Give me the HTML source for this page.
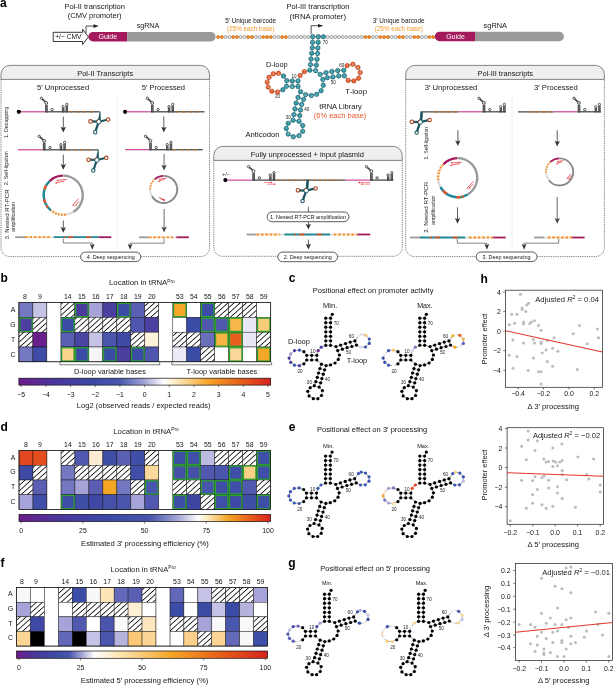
<!DOCTYPE html>
<html><head><meta charset="utf-8"><title>Figure</title>
<style>html,body{margin:0;padding:0;background:#fff}svg{display:block}text{font-family:"Liberation Sans",Arial,Helvetica,sans-serif}</style>
</head><body>
<svg width="614" height="685" viewBox="0 0 614 685">
<rect width="614" height="685" fill="#fff"/>
<defs>
<pattern id="hat" width="4.1" height="4.1" patternUnits="userSpaceOnUse" patternTransform="rotate(-42)"><rect width="4.1" height="4.1" fill="#fff"/><rect y="0" width="4.1" height="0.85" fill="#111"/></pattern>
<linearGradient id="gb" x1="0" x2="1" y1="0" y2="0"><stop offset="0" stop-color="#6c1c8a"/><stop offset="0.14" stop-color="#4c369b"/><stop offset="0.3" stop-color="#3b4aa4"/><stop offset="0.4" stop-color="#4857ac"/><stop offset="0.5" stop-color="#a4a4d6"/><stop offset="0.575" stop-color="#ffffff"/><stop offset="0.63" stop-color="#fde8ba"/><stop offset="0.75" stop-color="#f5a526"/><stop offset="0.87" stop-color="#e8641b"/><stop offset="1" stop-color="#d6221f"/></linearGradient>
<linearGradient id="gd" x1="0" x2="1" y1="0" y2="0"><stop offset="0" stop-color="#6c1c8a"/><stop offset="0.16" stop-color="#4c369b"/><stop offset="0.36" stop-color="#3b4aa4"/><stop offset="0.52" stop-color="#4857ac"/><stop offset="0.63" stop-color="#a4a4d6"/><stop offset="0.712" stop-color="#ffffff"/><stop offset="0.75" stop-color="#fde8ba"/><stop offset="0.83" stop-color="#f5a526"/><stop offset="0.91" stop-color="#e8641b"/><stop offset="1" stop-color="#d6221f"/></linearGradient>
<linearGradient id="gf" x1="0" x2="1" y1="0" y2="0"><stop offset="0" stop-color="#6c1c8a"/><stop offset="0.07" stop-color="#4c369b"/><stop offset="0.15" stop-color="#3b4aa4"/><stop offset="0.21" stop-color="#4857ac"/><stop offset="0.26" stop-color="#a4a4d6"/><stop offset="0.31" stop-color="#ffffff"/><stop offset="0.4" stop-color="#fde8ba"/><stop offset="0.62" stop-color="#f5a526"/><stop offset="0.8" stop-color="#e8641b"/><stop offset="1" stop-color="#d6221f"/></linearGradient>
</defs>
<path d="M1 79.4V247.60000000000002A9 9 0 0 0 10 256.6H200.5A9 9 0 0 0 209.5 247.60000000000002V79.4" fill="none" stroke="#333" stroke-width="0.7" stroke-dasharray="0.9 0.9"/>
<path d="M1 79.4V74.4A9 9 0 0 1 10 65.4H200.5A9 9 0 0 1 209.5 74.4V79.4Z" fill="#efefef" stroke="#666" stroke-width="0.8"/>
<text x="105.20" y="76.00" font-size="7.46" text-anchor="middle" fill="#161616">Pol-II Transcripts</text>
<text x="63.10" y="90.10" font-size="7.52" text-anchor="middle" fill="#161616">5′ Unprocessed</text>
<text x="163.40" y="90.10" font-size="7.55" text-anchor="middle" fill="#161616">5′ Processed</text>
<path d="M117.2 98V250" stroke="#aaa" stroke-width="0.5" stroke-dasharray="0.6 1"/>
<path d="M20.0 111.8H45.4" stroke="#c9358f" stroke-width="1.1" fill="none"/>
<path d="M45.4 111.8H68.2" stroke="#4a4a4a" stroke-width="1.3" fill="none"/>
<path d="M68.2 111.8H99.6" stroke="#4a4a4a" stroke-width="1.3" fill="none"/>
<path d="M69.5 111.8H72.5" stroke="#bd6d2a" stroke-width="1.3" fill="none"/>
<path d="M76.3 111.8H79.3" stroke="#bd6d2a" stroke-width="1.3" fill="none"/>
<path d="M83.1 111.8H86.1" stroke="#bd6d2a" stroke-width="1.3" fill="none"/>
<path d="M89.9 111.8H92.9" stroke="#bd6d2a" stroke-width="1.3" fill="none"/>
<circle cx="18.8" cy="111.8" r="2.1" fill="#000"/>
<path d="M46.40 112.40V104.80" stroke="#484848" stroke-width="2.7" fill="none"/><path d="M46.40 111.20V104.80" stroke="#9a9a9a" stroke-width="0.45" fill="none"/><path d="M45.40 101.80L42.20 99.00" stroke="#484848" stroke-width="1.7" fill="none"/><circle cx="46.30" cy="102.90" r="1.4" fill="#fff" stroke="#484848" stroke-width="1.0"/><circle cx="41.40" cy="98.30" r="1.15" fill="#fff" stroke="#484848" stroke-width="0.95"/><circle cx="52.15" cy="109.60" r="1.15" fill="#fff" stroke="#484848" stroke-width="0.95"/><path d="M63.20 112.40V108.00" stroke="#484848" stroke-width="2.5" fill="none"/><path d="M63.20 111.20V108.00" stroke="#9a9a9a" stroke-width="0.4" fill="none"/><circle cx="63.10" cy="106.70" r="1.15" fill="#fff" stroke="#484848" stroke-width="0.95"/><path d="M66.80 112.40V105.60" stroke="#484848" stroke-width="2.5" fill="none"/><path d="M66.80 111.20V105.60" stroke="#9a9a9a" stroke-width="0.4" fill="none"/><circle cx="66.80" cy="104.40" r="1.15" fill="#fff" stroke="#484848" stroke-width="0.95"/>
<path d="M97.95 120.20L99.60 112.20L100.45 110.70L100.85 120.20Z" fill="#1c5661"/>
<path d="M98.8 121.7L95.2 132.2" stroke="#1c5661" stroke-width="2.3"/>
<path d="M98.8 121.7L90.5 121.4" stroke="#1c5661" stroke-width="2.2"/>
<circle cx="90.5" cy="121.4" r="1.8" fill="#fff" stroke="#a83c16" stroke-width="1.05"/>
<path d="M98.8 121.7L108.2 119.5" stroke="#1c5661" stroke-width="2.2"/>
<circle cx="108.2" cy="119.5" r="1.7" fill="#fff" stroke="#a83c16" stroke-width="1.05"/>
<circle cx="95.2" cy="132.2" r="1.7" fill="#fff" stroke="#1c5661" stroke-width="1.05"/>
<circle cx="98.8" cy="121.7" r="2.25" fill="#fff" stroke="#1c5661" stroke-width="0.95"/>
<path d="M96.68 121.12A2.25 2.25 0 0 1 98.46 119.48" fill="none" stroke="#a83c16" stroke-width="0.95"/>
<path d="M63.3 116.5V128.2" stroke="#333" stroke-width="0.8" fill="none"/>
<path d="M60.6 126.7L63.3 128.0L66.0 126.7L63.3 132.5Z" fill="#333"/>
<path d="M17.9 149.8H43.2" stroke="#c9358f" stroke-width="1.1" fill="none"/>
<path d="M43.2 149.8H65.4" stroke="#4a4a4a" stroke-width="1.3" fill="none"/>
<path d="M65.4 149.8H97.9" stroke="#4a4a4a" stroke-width="1.3" fill="none"/>
<path d="M66.7 149.8H69.7" stroke="#bd6d2a" stroke-width="1.3" fill="none"/>
<path d="M73.5 149.8H76.5" stroke="#bd6d2a" stroke-width="1.3" fill="none"/>
<path d="M80.3 149.8H83.3" stroke="#bd6d2a" stroke-width="1.3" fill="none"/>
<path d="M87.1 149.8H90.1" stroke="#bd6d2a" stroke-width="1.3" fill="none"/>
<path d="M44.20 150.40V142.80" stroke="#484848" stroke-width="2.7" fill="none"/><path d="M44.20 149.20V142.80" stroke="#9a9a9a" stroke-width="0.45" fill="none"/><path d="M43.20 139.80L40.00 137.00" stroke="#484848" stroke-width="1.7" fill="none"/><circle cx="44.10" cy="140.90" r="1.4" fill="#fff" stroke="#484848" stroke-width="1.0"/><circle cx="39.20" cy="136.30" r="1.15" fill="#fff" stroke="#484848" stroke-width="0.95"/><circle cx="49.95" cy="147.60" r="1.15" fill="#fff" stroke="#484848" stroke-width="0.95"/><path d="M61.00 150.40V146.00" stroke="#484848" stroke-width="2.5" fill="none"/><path d="M61.00 149.20V146.00" stroke="#9a9a9a" stroke-width="0.4" fill="none"/><circle cx="60.90" cy="144.70" r="1.15" fill="#fff" stroke="#484848" stroke-width="0.95"/><path d="M64.60 150.40V143.60" stroke="#484848" stroke-width="2.5" fill="none"/><path d="M64.60 149.20V143.60" stroke="#9a9a9a" stroke-width="0.4" fill="none"/><circle cx="64.60" cy="142.40" r="1.15" fill="#fff" stroke="#484848" stroke-width="0.95"/>
<path d="M96.00 158.50L97.80 150.20L98.65 148.70L98.90 158.50Z" fill="#1c5661"/>
<path d="M96.9 160.0L93.3 170.5" stroke="#1c5661" stroke-width="2.3"/>
<path d="M96.9 160.0L88.6 159.7" stroke="#1c5661" stroke-width="2.2"/>
<circle cx="88.6" cy="159.7" r="1.8" fill="#fff" stroke="#a83c16" stroke-width="1.05"/>
<path d="M96.9 160.0L106.3 157.8" stroke="#1c5661" stroke-width="2.2"/>
<circle cx="106.3" cy="157.8" r="1.7" fill="#fff" stroke="#a83c16" stroke-width="1.05"/>
<circle cx="93.3" cy="170.5" r="1.7" fill="#fff" stroke="#1c5661" stroke-width="1.05"/>
<circle cx="96.9" cy="160.0" r="2.25" fill="#fff" stroke="#1c5661" stroke-width="0.95"/>
<path d="M94.73 159.42A2.25 2.25 0 0 1 96.51 157.78" fill="none" stroke="#a83c16" stroke-width="0.95"/>
<path d="M63.3 154.6V165.5" stroke="#333" stroke-width="0.8" fill="none"/>
<path d="M60.6 164.0L63.3 165.3L66.0 164.0L63.3 169.8Z" fill="#333"/>
<path d="M63.20 175.65A19.55 19.55 0 0 1 73.27 211.96" fill="none" stroke="#999999" stroke-width="2.4"/>
<path d="M73.27 211.96A19.55 19.55 0 0 1 65.92 214.56" fill="none" stroke="#dcdcdc" stroke-width="2.4"/>
<path d="M65.92 214.56A19.55 19.55 0 0 1 50.90 210.39" fill="none" stroke="#f6e6d2" stroke-width="2.4"/>
<path d="M65.58 214.60A19.55 19.55 0 0 1 50.90 210.39" fill="none" stroke="#f28c28" stroke-width="2.4" stroke-dasharray="1.5 1.5"/>
<path d="M50.90 210.39A19.55 19.55 0 0 1 49.62 181.14" fill="none" stroke="#1e8796" stroke-width="2.4"/>
<path d="M47.79 207.24A19.55 19.55 0 0 1 46.62 205.56" fill="none" stroke="#e8572a" stroke-width="2.4"/>
<path d="M45.20 202.84A19.55 19.55 0 0 1 44.08 199.26" fill="none" stroke="#e8572a" stroke-width="2.4"/>
<path d="M44.50 189.48A19.55 19.55 0 0 1 46.27 185.42" fill="none" stroke="#e8572a" stroke-width="2.4"/>
<path d="M49.62 181.14A19.55 19.55 0 0 1 62.86 175.65" fill="none" stroke="#a3195b" stroke-width="2.4"/>
<path d="M66.90 179.40L56.70 180.40L58.08 181.17" fill="none" stroke="#e0262b" stroke-width="0.7" stroke-linejoin="round"/>
<path d="M64.50 181.00L55.50 183.00L56.96 183.60" fill="none" stroke="#e0262b" stroke-width="0.7" stroke-linejoin="round"/>
<path d="M78.70 198.50L72.60 205.40L74.14 205.02" fill="none" stroke="#e0262b" stroke-width="0.7" stroke-linejoin="round"/>
<path d="M79.30 201.20L75.20 205.60L76.74 205.26" fill="none" stroke="#e0262b" stroke-width="0.7" stroke-linejoin="round"/>
<path d="M63.3 220.5V228.4" stroke="#333" stroke-width="0.8" fill="none"/>
<path d="M60.6 226.9L63.3 228.2L66.0 226.9L63.3 232.7Z" fill="#333"/>
<path d="M15.2 237.2H25.1" stroke="#999999" stroke-width="1.8" fill="none"/>
<path d="M25.1 237.2H51.0" stroke="#f6e6d2" stroke-width="1.8" fill="none"/>
<path d="M25.1 237.2H51.0" stroke="#f28c28" stroke-width="1.8" stroke-dasharray="2.6 1.8" fill="none"/>
<path d="M51.0 237.2H53.8" stroke="#dcdcdc" stroke-width="1.8" fill="none"/>
<path d="M53.8 237.2H98.6" stroke="#1e8796" stroke-width="1.8" fill="none"/>
<path d="M63.6 237.2H65.4" stroke="#e8572a" stroke-width="1.8" fill="none"/>
<path d="M68.1 237.2H73.1" stroke="#e8572a" stroke-width="1.8" fill="none"/>
<path d="M86.0 237.2H91.0" stroke="#e8572a" stroke-width="1.8" fill="none"/>
<path d="M98.6 237.2H111.3" stroke="#a3195b" stroke-width="1.8" fill="none"/>
<path d="M63.3 238.5V243H92.3V245.5" fill="none" stroke="#333" stroke-width="0.6"/>
<path d="M89.9 243.8L92.3 245.2L94.7 243.8L92.3 249.8Z" fill="#333"/>
<circle cx="125.1" cy="111.8" r="2.1" fill="#000"/>
<path d="M126.5 111.8H151.2" stroke="#c9358f" stroke-width="1.1" fill="none"/>
<path d="M151.2 111.8H174.0" stroke="#4a4a4a" stroke-width="1.3" fill="none"/>
<path d="M174.0 111.8H204.5" stroke="#4a4a4a" stroke-width="1.3" fill="none"/>
<path d="M175.3 111.8H178.3" stroke="#bd6d2a" stroke-width="1.3" fill="none"/>
<path d="M182.1 111.8H185.1" stroke="#bd6d2a" stroke-width="1.3" fill="none"/>
<path d="M188.9 111.8H191.9" stroke="#bd6d2a" stroke-width="1.3" fill="none"/>
<path d="M195.7 111.8H198.7" stroke="#bd6d2a" stroke-width="1.3" fill="none"/>
<path d="M152.30 112.40V104.80" stroke="#484848" stroke-width="2.7" fill="none"/><path d="M152.30 111.20V104.80" stroke="#9a9a9a" stroke-width="0.45" fill="none"/><path d="M151.30 101.80L148.10 99.00" stroke="#484848" stroke-width="1.7" fill="none"/><circle cx="152.20" cy="102.90" r="1.4" fill="#fff" stroke="#484848" stroke-width="1.0"/><circle cx="147.30" cy="98.30" r="1.15" fill="#fff" stroke="#484848" stroke-width="0.95"/><circle cx="158.05" cy="109.60" r="1.15" fill="#fff" stroke="#484848" stroke-width="0.95"/><path d="M169.10 112.40V108.00" stroke="#484848" stroke-width="2.5" fill="none"/><path d="M169.10 111.20V108.00" stroke="#9a9a9a" stroke-width="0.4" fill="none"/><circle cx="169.00" cy="106.70" r="1.15" fill="#fff" stroke="#484848" stroke-width="0.95"/><path d="M172.70 112.40V105.60" stroke="#484848" stroke-width="2.5" fill="none"/><path d="M172.70 111.20V105.60" stroke="#9a9a9a" stroke-width="0.4" fill="none"/><circle cx="172.70" cy="104.40" r="1.15" fill="#fff" stroke="#484848" stroke-width="0.95"/>
<path d="M163.8 116.5V128.3" stroke="#333" stroke-width="0.8" fill="none"/>
<path d="M161.2 126.8L163.8 128.1L166.5 126.8L163.8 132.6Z" fill="#333"/>
<path d="M125.1 149.7H149.4" stroke="#c9358f" stroke-width="1.1" fill="none"/>
<path d="M149.4 149.7H171.7" stroke="#4a4a4a" stroke-width="1.3" fill="none"/>
<path d="M171.7 149.7H202.7" stroke="#4a4a4a" stroke-width="1.3" fill="none"/>
<path d="M173.0 149.7H176.0" stroke="#bd6d2a" stroke-width="1.3" fill="none"/>
<path d="M179.8 149.7H182.8" stroke="#bd6d2a" stroke-width="1.3" fill="none"/>
<path d="M186.6 149.7H189.6" stroke="#bd6d2a" stroke-width="1.3" fill="none"/>
<path d="M193.4 149.7H196.4" stroke="#bd6d2a" stroke-width="1.3" fill="none"/>
<path d="M150.50 150.30V142.70" stroke="#484848" stroke-width="2.7" fill="none"/><path d="M150.50 149.10V142.70" stroke="#9a9a9a" stroke-width="0.45" fill="none"/><path d="M149.50 139.70L146.30 136.90" stroke="#484848" stroke-width="1.7" fill="none"/><circle cx="150.40" cy="140.80" r="1.4" fill="#fff" stroke="#484848" stroke-width="1.0"/><circle cx="145.50" cy="136.20" r="1.15" fill="#fff" stroke="#484848" stroke-width="0.95"/><circle cx="156.25" cy="147.50" r="1.15" fill="#fff" stroke="#484848" stroke-width="0.95"/><path d="M167.30 150.30V145.90" stroke="#484848" stroke-width="2.5" fill="none"/><path d="M167.30 149.10V145.90" stroke="#9a9a9a" stroke-width="0.4" fill="none"/><circle cx="167.20" cy="144.60" r="1.15" fill="#fff" stroke="#484848" stroke-width="0.95"/><path d="M170.90 150.30V143.50" stroke="#484848" stroke-width="2.5" fill="none"/><path d="M170.90 149.10V143.50" stroke="#9a9a9a" stroke-width="0.4" fill="none"/><circle cx="170.90" cy="142.30" r="1.15" fill="#fff" stroke="#484848" stroke-width="0.95"/>
<path d="M164.1 154.0V166.3" stroke="#444" stroke-width="0.8" fill="none"/>
<path d="M161.4 164.8L164.1 166.1L166.8 164.8L164.1 170.6Z" fill="#444"/>
<path d="M163.70 175.80A13.6 13.6 0 1 1 151.81 195.99" fill="none" stroke="#888" stroke-width="1.8"/>
<path d="M151.81 195.99A13.6 13.6 0 0 1 150.11 189.87" fill="none" stroke="#dcdcdc" stroke-width="1.8"/>
<path d="M150.11 189.87A13.6 13.6 0 0 1 154.78 179.14" fill="none" stroke="#f6e6d2" stroke-width="1.8"/>
<path d="M150.10 189.40A13.6 13.6 0 0 1 154.78 179.14" fill="none" stroke="#f28c28" stroke-width="1.8" stroke-dasharray="1.3 1.3"/>
<path d="M154.78 179.14A13.6 13.6 0 0 1 163.46 175.80" fill="none" stroke="#a3195b" stroke-width="1.8"/>
<path d="M166.50 178.30L159.00 179.10L160.39 179.86" fill="none" stroke="#e0262b" stroke-width="0.7" stroke-linejoin="round"/>
<path d="M164.50 179.30L158.30 181.40L159.82 181.84" fill="none" stroke="#e0262b" stroke-width="0.7" stroke-linejoin="round"/>
<path d="M159.00 197.30L164.50 200.20L163.77 198.80" fill="none" stroke="#e0262b" stroke-width="0.7" stroke-linejoin="round"/>
<path d="M160.60 198.80L164.80 200.40L163.26 200.78" fill="none" stroke="#e0262b" stroke-width="0.7" stroke-linejoin="round"/>
<path d="M164.1 209.0V228.1" stroke="#444" stroke-width="0.8" fill="none"/>
<path d="M161.4 226.6L164.1 227.9L166.8 226.6L164.1 232.4Z" fill="#444"/>
<path d="M139.0 237.3H148.9" stroke="#999999" stroke-width="1.8" fill="none"/>
<path d="M148.9 237.3H173.1" stroke="#f6e6d2" stroke-width="1.8" fill="none"/>
<path d="M148.9 237.3H173.1" stroke="#f28c28" stroke-width="1.8" stroke-dasharray="2.6 1.8" fill="none"/>
<path d="M173.1 237.3H176.3" stroke="#dcdcdc" stroke-width="1.8" fill="none"/>
<path d="M176.3 237.3H188.9" stroke="#a3195b" stroke-width="1.8" fill="none"/>
<path d="M164.1 238.7V243.2H130.1V245.5" fill="none" stroke="#333" stroke-width="0.6"/>
<path d="M127.7 243.8L130.1 245.2L132.5 243.8L130.1 249.8Z" fill="#333"/>
<rect x="80.6" y="252.1" width="60.2" height="9.5" rx="4.8" fill="#fff" stroke="#333" stroke-width="0.8"/>
<text x="110.70" y="258.75" font-size="5.40" text-anchor="middle" fill="#161616">4. Deep sequencing</text>
<text x="8.42" y="122.20" font-size="5.35" text-anchor="middle" fill="#222" transform="rotate(-90 8.42 122.20)">1. Decapping</text>
<text x="8.43" y="168.30" font-size="5.37" text-anchor="middle" fill="#222" transform="rotate(-90 8.43 168.30)">2. Self-ligation</text>
<text x="8.68" y="214.40" font-size="6.05" text-anchor="middle" fill="#222" transform="rotate(-90 8.68 214.40)">3. Nested RT-PCR</text>
<text x="14.84" y="217.00" font-size="5.40" text-anchor="middle" fill="#222" transform="rotate(-90 14.84 217.00)">amplification</text>
<path d="M213.8 160.4V247.3A9 9 0 0 0 222.8 256.3H393.2A9 9 0 0 0 402.2 247.3V160.4" fill="none" stroke="#333" stroke-width="0.7" stroke-dasharray="0.9 0.9"/>
<path d="M213.8 160.4V155.4A9 9 0 0 1 222.8 146.4H393.2A9 9 0 0 1 402.2 155.4V160.4Z" fill="#efefef" stroke="#666" stroke-width="0.8"/>
<text x="307.35" y="156.80" font-size="7.47" text-anchor="middle" fill="#161616">Fully unprocessed + input plasmid</text>
<text x="226.00" y="175.60" font-size="5.50" text-anchor="middle" fill="#333">+/−</text>
<circle cx="225.4" cy="180.1" r="2.1" fill="#000"/>
<path d="M227.0 180.1H252.6" stroke="#c9358f" stroke-width="1.1" fill="none"/>
<path d="M252.6 180.1H276.2" stroke="#4a4a4a" stroke-width="1.3" fill="none"/>
<path d="M276.2 180.1H345.6" stroke="#4a4a4a" stroke-width="1.3" fill="none"/>
<path d="M277.2 180.1H279.7" stroke="#bd6d2a" stroke-width="1.3" fill="none"/>
<path d="M282.4 180.1H284.9" stroke="#bd6d2a" stroke-width="1.3" fill="none"/>
<path d="M287.6 180.1H290.1" stroke="#bd6d2a" stroke-width="1.3" fill="none"/>
<path d="M292.8 180.1H295.3" stroke="#bd6d2a" stroke-width="1.3" fill="none"/>
<path d="M298.0 180.1H300.5" stroke="#bd6d2a" stroke-width="1.3" fill="none"/>
<path d="M303.2 180.1H305.7" stroke="#bd6d2a" stroke-width="1.3" fill="none"/>
<path d="M308.4 180.1H310.9" stroke="#bd6d2a" stroke-width="1.3" fill="none"/>
<path d="M313.6 180.1H316.1" stroke="#bd6d2a" stroke-width="1.3" fill="none"/>
<path d="M318.8 180.1H321.3" stroke="#bd6d2a" stroke-width="1.3" fill="none"/>
<path d="M324.0 180.1H326.5" stroke="#bd6d2a" stroke-width="1.3" fill="none"/>
<path d="M329.2 180.1H331.7" stroke="#bd6d2a" stroke-width="1.3" fill="none"/>
<path d="M334.4 180.1H336.9" stroke="#bd6d2a" stroke-width="1.3" fill="none"/>
<path d="M339.6 180.1H342.1" stroke="#bd6d2a" stroke-width="1.3" fill="none"/>
<path d="M345.6 180.1H370.3" stroke="#c9358f" stroke-width="1.1" fill="none"/>
<path d="M370.3 180.1H393.3" stroke="#4a4a4a" stroke-width="1.3" fill="none"/>
<path d="M253.60 180.70V173.10" stroke="#484848" stroke-width="2.7" fill="none"/><path d="M253.60 179.50V173.10" stroke="#9a9a9a" stroke-width="0.45" fill="none"/><path d="M252.60 170.10L249.40 167.30" stroke="#484848" stroke-width="1.7" fill="none"/><circle cx="253.50" cy="171.20" r="1.4" fill="#fff" stroke="#484848" stroke-width="1.0"/><circle cx="248.60" cy="166.60" r="1.15" fill="#fff" stroke="#484848" stroke-width="0.95"/><circle cx="259.35" cy="177.90" r="1.15" fill="#fff" stroke="#484848" stroke-width="0.95"/><path d="M270.40 180.70V176.30" stroke="#484848" stroke-width="2.5" fill="none"/><path d="M270.40 179.50V176.30" stroke="#9a9a9a" stroke-width="0.4" fill="none"/><circle cx="270.30" cy="175.00" r="1.15" fill="#fff" stroke="#484848" stroke-width="0.95"/><path d="M274.00 180.70V173.90" stroke="#484848" stroke-width="2.5" fill="none"/><path d="M274.00 179.50V173.90" stroke="#9a9a9a" stroke-width="0.4" fill="none"/><circle cx="274.00" cy="172.70" r="1.15" fill="#fff" stroke="#484848" stroke-width="0.95"/>
<path d="M371.40 180.70V173.10" stroke="#484848" stroke-width="2.7" fill="none"/><path d="M371.40 179.50V173.10" stroke="#9a9a9a" stroke-width="0.45" fill="none"/><path d="M370.40 170.10L367.20 167.30" stroke="#484848" stroke-width="1.7" fill="none"/><circle cx="371.30" cy="171.20" r="1.4" fill="#fff" stroke="#484848" stroke-width="1.0"/><circle cx="366.40" cy="166.60" r="1.15" fill="#fff" stroke="#484848" stroke-width="0.95"/><circle cx="377.15" cy="177.90" r="1.15" fill="#fff" stroke="#484848" stroke-width="0.95"/><path d="M388.20 180.70V176.30" stroke="#484848" stroke-width="2.5" fill="none"/><path d="M388.20 179.50V176.30" stroke="#9a9a9a" stroke-width="0.4" fill="none"/><circle cx="388.10" cy="175.00" r="1.15" fill="#fff" stroke="#484848" stroke-width="0.95"/><path d="M391.80 180.70V173.90" stroke="#484848" stroke-width="2.5" fill="none"/><path d="M391.80 179.50V173.90" stroke="#9a9a9a" stroke-width="0.4" fill="none"/><circle cx="391.80" cy="172.70" r="1.15" fill="#fff" stroke="#484848" stroke-width="0.95"/>
<path d="M263.9 182.5H271.2M267.1 184.2H274.5" stroke="#e0262b" stroke-width="0.5"/><path d="M270.6 181.6L272.6 182.5L270.6 183.4ZM273.9 183.3L275.9 184.2L273.9 185.1Z" fill="#e0262b"/>
<path d="M370.3 182.5H359.2M370.3 184.1H361.8" stroke="#e0262b" stroke-width="0.5"/><path d="M359.8 181.6L357.8 182.5L359.8 183.4ZM362.4 183.2L360.4 184.1L362.4 185Z" fill="#e0262b"/>
<path d="M305.60 189.10L306.50 179.70L309.00 179.70L308.40 189.10Z" fill="#1c5661"/>
<path d="M306.2 190.6L302.6 201.1" stroke="#1c5661" stroke-width="2.3"/>
<path d="M306.2 190.6L297.9 190.3" stroke="#1c5661" stroke-width="2.2"/>
<circle cx="297.9" cy="190.3" r="1.8" fill="#fff" stroke="#a83c16" stroke-width="1.05"/>
<path d="M306.2 190.6L315.6 188.4" stroke="#1c5661" stroke-width="2.2"/>
<circle cx="315.6" cy="188.4" r="1.7" fill="#fff" stroke="#a83c16" stroke-width="1.05"/>
<circle cx="302.6" cy="201.1" r="1.7" fill="#fff" stroke="#1c5661" stroke-width="1.05"/>
<circle cx="306.2" cy="190.6" r="2.25" fill="#fff" stroke="#1c5661" stroke-width="0.95"/>
<path d="M304.03 190.02A2.25 2.25 0 0 1 305.81 188.38" fill="none" stroke="#a83c16" stroke-width="0.95"/>
<path d="M308.4 206.6V212" stroke="#333" stroke-width="0.7"/>
<rect x="267.2" y="212.0" width="81.7" height="9.7" rx="4.8" fill="#fff" stroke="#333" stroke-width="0.8"/>
<text x="308.05" y="218.75" font-size="5.40" text-anchor="middle" fill="#161616">1. Nested RT-PCR amplification</text>
<path d="M308.4 221.7V225.2" stroke="#333" stroke-width="0.8" fill="none"/>
<path d="M305.8 223.7L308.4 225.0L311.0 223.7L308.4 229.5Z" fill="#333"/>
<path d="M246.6 234.5H256.5" stroke="#999999" stroke-width="1.8" fill="none"/>
<path d="M256.5 234.5H279.8" stroke="#f6e6d2" stroke-width="1.8" fill="none"/>
<path d="M256.5 234.5H279.8" stroke="#f28c28" stroke-width="1.8" stroke-dasharray="2.6 1.8" fill="none"/>
<path d="M279.8 234.5H284.4" stroke="#dcdcdc" stroke-width="1.8" fill="none"/>
<path d="M284.4 234.5H330.1" stroke="#1e8796" stroke-width="1.8" fill="none"/>
<path d="M294.4 234.5H295.9" stroke="#e8572a" stroke-width="1.8" fill="none"/>
<path d="M299.0 234.5H304.5" stroke="#e8572a" stroke-width="1.8" fill="none"/>
<path d="M316.8 234.5H321.9" stroke="#e8572a" stroke-width="1.8" fill="none"/>
<path d="M330.1 234.5H333.8" stroke="#dcdcdc" stroke-width="1.8" fill="none"/>
<path d="M333.8 234.5H357.5" stroke="#f6e6d2" stroke-width="1.8" fill="none"/>
<path d="M333.8 234.5H357.5" stroke="#f28c28" stroke-width="1.8" stroke-dasharray="2.6 1.8" fill="none"/>
<path d="M357.5 234.5H370.3" stroke="#a3195b" stroke-width="1.8" fill="none"/>
<path d="M308.4 239.5V245.3" stroke="#333" stroke-width="0.8" fill="none"/>
<path d="M305.8 243.8L308.4 245.1L311.0 243.8L308.4 249.6Z" fill="#333"/>
<rect x="277.8" y="252.1" width="59.8" height="9.6" rx="4.8" fill="#fff" stroke="#333" stroke-width="0.8"/>
<text x="307.70" y="258.80" font-size="5.40" text-anchor="middle" fill="#161616">2. Deep sequencing</text>
<path d="M405.7 79.4V247.60000000000002A9 9 0 0 0 414.7 256.6H595.4A9 9 0 0 0 604.4 247.60000000000002V79.4" fill="none" stroke="#333" stroke-width="0.7" stroke-dasharray="0.9 0.9"/>
<path d="M405.7 79.4V74.4A9 9 0 0 1 414.7 65.4H595.4A9 9 0 0 1 604.4 74.4V79.4Z" fill="#efefef" stroke="#666" stroke-width="0.8"/>
<text x="505.25" y="76.00" font-size="7.42" text-anchor="middle" fill="#161616">Pol-III transcripts</text>
<text x="451.00" y="90.10" font-size="7.64" text-anchor="middle" fill="#161616">3′ Unprocessed</text>
<text x="555.95" y="90.10" font-size="7.61" text-anchor="middle" fill="#161616">3′ Processed</text>
<path d="M512.1 98V250" stroke="#aaa" stroke-width="0.5" stroke-dasharray="0.6 1"/>
<path d="M422.9 111.8H458.2" stroke="#4a4a4a" stroke-width="1.3" fill="none"/>
<path d="M433.9 111.8H437.5" stroke="#bd6d2a" stroke-width="1.3" fill="none"/>
<path d="M440.3 111.8H443.9" stroke="#bd6d2a" stroke-width="1.3" fill="none"/>
<path d="M446.7 111.8H450.3" stroke="#bd6d2a" stroke-width="1.3" fill="none"/>
<path d="M453.1 111.8H456.7" stroke="#bd6d2a" stroke-width="1.3" fill="none"/>
<path d="M458.2 111.8H482.4" stroke="#c9358f" stroke-width="1.1" fill="none"/>
<path d="M482.4 111.8H505.9" stroke="#4a4a4a" stroke-width="1.3" fill="none"/>
<path d="M484.00 112.40V104.80" stroke="#484848" stroke-width="2.7" fill="none"/><path d="M484.00 111.20V104.80" stroke="#9a9a9a" stroke-width="0.45" fill="none"/><path d="M483.00 101.80L479.80 99.00" stroke="#484848" stroke-width="1.7" fill="none"/><circle cx="483.90" cy="102.90" r="1.4" fill="#fff" stroke="#484848" stroke-width="1.0"/><circle cx="479.00" cy="98.30" r="1.15" fill="#fff" stroke="#484848" stroke-width="0.95"/><circle cx="489.75" cy="109.60" r="1.15" fill="#fff" stroke="#484848" stroke-width="0.95"/><path d="M500.80 112.40V108.00" stroke="#484848" stroke-width="2.5" fill="none"/><path d="M500.80 111.20V108.00" stroke="#9a9a9a" stroke-width="0.4" fill="none"/><circle cx="500.70" cy="106.70" r="1.15" fill="#fff" stroke="#484848" stroke-width="0.95"/><path d="M504.40 112.40V105.60" stroke="#484848" stroke-width="2.5" fill="none"/><path d="M504.40 111.20V105.60" stroke="#9a9a9a" stroke-width="0.4" fill="none"/><circle cx="504.40" cy="104.40" r="1.15" fill="#fff" stroke="#484848" stroke-width="0.95"/>
<path d="M419.60 120.60L420.50 111.20L423.00 111.20L422.40 120.60Z" fill="#1c5661"/>
<path d="M420.2 122.1L416.6 132.6" stroke="#1c5661" stroke-width="2.3"/>
<path d="M420.2 122.1L411.9 121.8" stroke="#1c5661" stroke-width="2.2"/>
<circle cx="411.9" cy="121.8" r="1.8" fill="#fff" stroke="#a83c16" stroke-width="1.05"/>
<path d="M420.2 122.1L429.6 119.9" stroke="#1c5661" stroke-width="2.2"/>
<circle cx="429.6" cy="119.9" r="1.7" fill="#fff" stroke="#a83c16" stroke-width="1.05"/>
<circle cx="416.6" cy="132.6" r="1.7" fill="#fff" stroke="#1c5661" stroke-width="1.05"/>
<circle cx="420.2" cy="122.1" r="2.25" fill="#fff" stroke="#1c5661" stroke-width="0.95"/>
<path d="M418.03 121.52A2.25 2.25 0 0 1 419.81 119.88" fill="none" stroke="#a83c16" stroke-width="0.95"/>
<text x="427.86" y="143.20" font-size="5.16" text-anchor="middle" fill="#222" transform="rotate(-90 427.86 143.20)">1. Self-ligation</text>
<path d="M457.9 130.3V141.7" stroke="#333" stroke-width="0.8" fill="none"/>
<path d="M455.2 140.2L457.9 141.5L460.5 140.2L457.9 146.0Z" fill="#333"/>
<path d="M457.65 158.10A19.55 19.55 0 0 1 467.72 194.41" fill="none" stroke="#999999" stroke-width="2.4"/>
<path d="M467.72 194.41A19.55 19.55 0 0 1 440.39 186.83" fill="none" stroke="#1e8796" stroke-width="2.4"/>
<path d="M463.69 196.24A19.55 19.55 0 0 1 462.05 196.70" fill="none" stroke="#e8572a" stroke-width="2.4"/>
<path d="M460.37 197.01A19.55 19.55 0 0 1 456.29 197.15" fill="none" stroke="#e8572a" stroke-width="2.4"/>
<path d="M446.72 193.86A19.55 19.55 0 0 1 443.12 190.73" fill="none" stroke="#e8572a" stroke-width="2.4"/>
<path d="M440.39 186.83A19.55 19.55 0 0 1 438.29 180.37" fill="none" stroke="#dcdcdc" stroke-width="2.4"/>
<path d="M438.29 180.37A19.55 19.55 0 0 1 443.59 164.07" fill="none" stroke="#f6e6d2" stroke-width="2.4"/>
<path d="M438.25 180.03A19.55 19.55 0 0 1 443.59 164.07" fill="none" stroke="#f28c28" stroke-width="2.4" stroke-dasharray="1.5 1.5"/>
<path d="M443.59 164.07A19.55 19.55 0 0 1 457.31 158.10" fill="none" stroke="#a3195b" stroke-width="2.4"/>
<path d="M461.70 162.20L451.20 162.90L452.56 163.71" fill="none" stroke="#e0262b" stroke-width="0.7" stroke-linejoin="round"/>
<path d="M460.10 163.50L450.40 165.40L451.85 166.03" fill="none" stroke="#e0262b" stroke-width="0.7" stroke-linejoin="round"/>
<path d="M473.50 181.30L467.00 188.20L468.55 187.87" fill="none" stroke="#e0262b" stroke-width="0.7" stroke-linejoin="round"/>
<path d="M473.20 184.20L469.00 188.20L470.56 187.96" fill="none" stroke="#e0262b" stroke-width="0.7" stroke-linejoin="round"/>
<text x="428.22" y="207.20" font-size="6.16" text-anchor="middle" fill="#222" transform="rotate(-90 428.22 207.20)">2. Nested RT-PCR</text>
<text x="434.92" y="210.20" font-size="5.34" text-anchor="middle" fill="#222" transform="rotate(-90 434.92 210.20)">amplification</text>
<path d="M457.5 207.3V219.5" stroke="#333" stroke-width="0.8" fill="none"/>
<path d="M454.9 218.0L457.5 219.3L460.1 218.0L457.5 223.8Z" fill="#333"/>
<path d="M409.9 237.5H419.7" stroke="#999999" stroke-width="1.8" fill="none"/>
<path d="M419.7 237.5H465.4" stroke="#1e8796" stroke-width="1.8" fill="none"/>
<path d="M430.1 237.5H431.9" stroke="#e8572a" stroke-width="1.8" fill="none"/>
<path d="M434.9 237.5H439.8" stroke="#e8572a" stroke-width="1.8" fill="none"/>
<path d="M452.9 237.5H457.7" stroke="#e8572a" stroke-width="1.8" fill="none"/>
<path d="M465.4 237.5H469.0" stroke="#dcdcdc" stroke-width="1.8" fill="none"/>
<path d="M469.0 237.5H493.2" stroke="#f6e6d2" stroke-width="1.8" fill="none"/>
<path d="M469.0 237.5H493.2" stroke="#f28c28" stroke-width="1.8" stroke-dasharray="2.6 1.8" fill="none"/>
<path d="M493.2 237.5H505.7" stroke="#a3195b" stroke-width="1.8" fill="none"/>
<path d="M457.3 239V243.2H486.9V245.5" fill="none" stroke="#333" stroke-width="0.6"/>
<path d="M484.5 243.8L486.9 245.2L489.3 243.8L486.9 249.8Z" fill="#333"/>
<path d="M518.0 111.8H553.3" stroke="#4a4a4a" stroke-width="1.3" fill="none"/>
<path d="M529.0 111.8H532.6" stroke="#bd6d2a" stroke-width="1.3" fill="none"/>
<path d="M535.5 111.8H539.1" stroke="#bd6d2a" stroke-width="1.3" fill="none"/>
<path d="M542.0 111.8H545.6" stroke="#bd6d2a" stroke-width="1.3" fill="none"/>
<path d="M548.5 111.8H552.1" stroke="#bd6d2a" stroke-width="1.3" fill="none"/>
<path d="M553.3 111.8H577.5" stroke="#c9358f" stroke-width="1.1" fill="none"/>
<path d="M577.5 111.8H601.0" stroke="#4a4a4a" stroke-width="1.3" fill="none"/>
<path d="M579.00 112.40V104.80" stroke="#484848" stroke-width="2.7" fill="none"/><path d="M579.00 111.20V104.80" stroke="#9a9a9a" stroke-width="0.45" fill="none"/><path d="M578.00 101.80L574.80 99.00" stroke="#484848" stroke-width="1.7" fill="none"/><circle cx="578.90" cy="102.90" r="1.4" fill="#fff" stroke="#484848" stroke-width="1.0"/><circle cx="574.00" cy="98.30" r="1.15" fill="#fff" stroke="#484848" stroke-width="0.95"/><circle cx="584.75" cy="109.60" r="1.15" fill="#fff" stroke="#484848" stroke-width="0.95"/><path d="M595.80 112.40V108.00" stroke="#484848" stroke-width="2.5" fill="none"/><path d="M595.80 111.20V108.00" stroke="#9a9a9a" stroke-width="0.4" fill="none"/><circle cx="595.70" cy="106.70" r="1.15" fill="#fff" stroke="#484848" stroke-width="0.95"/><path d="M599.40 112.40V105.60" stroke="#484848" stroke-width="2.5" fill="none"/><path d="M599.40 111.20V105.60" stroke="#9a9a9a" stroke-width="0.4" fill="none"/><circle cx="599.40" cy="104.40" r="1.15" fill="#fff" stroke="#484848" stroke-width="0.95"/>
<path d="M557.2 130.3V142.3" stroke="#333" stroke-width="0.8" fill="none"/>
<path d="M554.6 140.8L557.2 142.1L559.9 140.8L557.2 146.6Z" fill="#333"/>
<path d="M559.60 158.30A13.6 13.6 0 1 1 548.88 180.27" fill="none" stroke="#888" stroke-width="1.8"/>
<path d="M548.88 180.27A13.6 13.6 0 0 1 546.03 172.85" fill="none" stroke="#dcdcdc" stroke-width="1.8"/>
<path d="M546.03 172.85A13.6 13.6 0 0 1 550.50 161.79" fill="none" stroke="#f6e6d2" stroke-width="1.8"/>
<path d="M546.02 172.61A13.6 13.6 0 0 1 550.50 161.79" fill="none" stroke="#f28c28" stroke-width="1.8" stroke-dasharray="1.3 1.3"/>
<path d="M550.50 161.79A13.6 13.6 0 0 1 559.36 158.30" fill="none" stroke="#a3195b" stroke-width="1.8"/>
<path d="M563.50 160.60L557.00 161.60L558.42 162.29" fill="none" stroke="#e0262b" stroke-width="0.7" stroke-linejoin="round"/>
<path d="M562.00 161.80L556.50 163.60L558.02 164.05" fill="none" stroke="#e0262b" stroke-width="0.7" stroke-linejoin="round"/>
<path d="M570.80 174.00L567.00 178.50L568.53 178.09" fill="none" stroke="#e0262b" stroke-width="0.7" stroke-linejoin="round"/>
<path d="M571.80 175.50L568.60 179.30L570.13 178.89" fill="none" stroke="#e0262b" stroke-width="0.7" stroke-linejoin="round"/>
<path d="M557.2 197.0V219.5" stroke="#444" stroke-width="0.8" fill="none"/>
<path d="M554.6 218.0L557.2 219.3L559.9 218.0L557.2 223.8Z" fill="#444"/>
<path d="M534.1 237.5H544.3" stroke="#999999" stroke-width="1.8" fill="none"/>
<path d="M544.3 237.5H547.9" stroke="#dcdcdc" stroke-width="1.8" fill="none"/>
<path d="M547.9 237.5H572.1" stroke="#f6e6d2" stroke-width="1.8" fill="none"/>
<path d="M547.9 237.5H572.1" stroke="#f28c28" stroke-width="1.8" stroke-dasharray="2.6 1.8" fill="none"/>
<path d="M572.1 237.5H584.6" stroke="#a3195b" stroke-width="1.8" fill="none"/>
<path d="M558.7 239V243.2H524.1V245.5" fill="none" stroke="#333" stroke-width="0.6"/>
<path d="M521.7 243.8L524.1 245.2L526.5 243.8L524.1 249.8Z" fill="#333"/>
<rect x="476.2" y="252.0" width="60.8" height="9.6" rx="4.8" fill="#fff" stroke="#333" stroke-width="0.8"/>
<text x="506.60" y="258.70" font-size="5.40" text-anchor="middle" fill="#161616">3. Deep sequencing</text>
<text x="0.00" y="6.80" font-size="12.00" text-anchor="start" fill="#000" font-weight="bold">a</text>
<text x="94.70" y="8.80" font-size="7.52" text-anchor="middle" fill="#161616">Pol-II transcription</text>
<text x="94.65" y="18.00" font-size="7.52" text-anchor="middle" fill="#161616">(CMV promoter)</text>
<text x="317.95" y="9.20" font-size="7.55" text-anchor="middle" fill="#161616">Pol-III transcription</text>
<text x="317.80" y="18.80" font-size="7.75" text-anchor="middle" fill="#161616">(tRNA promoter)</text>
<text x="148.00" y="27.80" font-size="7.13" text-anchor="middle" fill="#161616">sgRNA</text>
<text x="495.30" y="27.80" font-size="7.39" text-anchor="middle" fill="#161616">sgRNA</text>
<text x="250.70" y="23.20" font-size="6.31" text-anchor="middle" fill="#161616">5′ Unique barcode</text>
<text x="250.85" y="31.30" font-size="6.31" text-anchor="middle" fill="#f39a2b">(25% each base)</text>
<text x="398.65" y="22.60" font-size="6.42" text-anchor="middle" fill="#161616">3′ Unique barcode</text>
<text x="398.80" y="30.70" font-size="6.38" text-anchor="middle" fill="#f39a2b">(25% each base)</text>
<path d="M53.2 32.3H82.6V29.3L88.4 36.9L82.6 44.5V41.5H53.2Z" fill="#fff" stroke="#222" stroke-width="0.9" stroke-linejoin="miter"/>
<text x="68.35" y="39.30" font-size="6.67" text-anchor="middle" fill="#161616">+/− CMV</text>
<path d="M93 32.1H127.2V41.5H93A4.7 4.7 0 0 1 93 32.1Z" fill="#a3195b"/>
<path d="M127.2 32.1H210.9A4.7 4.7 0 0 1 210.9 41.5H127.2Z" fill="#999999"/>
<text x="107.80" y="39.30" font-size="7.00" text-anchor="middle" fill="#fff">Guide</text>
<path d="M86 33V26.1H94" fill="none" stroke="#222" stroke-width="0.8"/><path d="M93.5 24.3L98.8 26.1L93.5 27.9Z" fill="#222"/>
<path d="M311.1 34.2V25.7H318.5" fill="none" stroke="#222" stroke-width="0.8"/><path d="M318 23.9L323.3 25.7L318 27.5Z" fill="#222"/>
<path d="M439.5 31.8H475V41.2H439.5A4.7 4.7 0 0 1 439.5 31.8Z" fill="#a3195b"/>
<path d="M475 31.8H559.3A4.7 4.7 0 0 1 559.3 41.2H475Z" fill="#999999"/>
<text x="455.50" y="39.00" font-size="7.00" text-anchor="middle" fill="#fff">Guide</text>
<circle cx="218.06" cy="37.05" r="1.55" fill="#f58a1f" stroke="#b8621a" stroke-width="0.6"/>
<circle cx="221.83" cy="37.05" r="1.55" fill="#f58a1f" stroke="#b8621a" stroke-width="0.6"/>
<circle cx="225.60" cy="37.05" r="1.55" fill="#ededed" stroke="#7c7c7c" stroke-width="0.65"/>
<circle cx="229.37" cy="37.05" r="1.55" fill="#ededed" stroke="#7c7c7c" stroke-width="0.65"/>
<circle cx="233.14" cy="37.05" r="1.55" fill="#f58a1f" stroke="#b8621a" stroke-width="0.6"/>
<circle cx="236.91" cy="37.05" r="1.55" fill="#f58a1f" stroke="#b8621a" stroke-width="0.6"/>
<circle cx="240.68" cy="37.05" r="1.55" fill="#ededed" stroke="#7c7c7c" stroke-width="0.65"/>
<circle cx="244.45" cy="37.05" r="1.55" fill="#ededed" stroke="#7c7c7c" stroke-width="0.65"/>
<circle cx="248.22" cy="37.05" r="1.55" fill="#f58a1f" stroke="#b8621a" stroke-width="0.6"/>
<circle cx="251.99" cy="37.05" r="1.55" fill="#f58a1f" stroke="#b8621a" stroke-width="0.6"/>
<circle cx="255.76" cy="37.05" r="1.55" fill="#ededed" stroke="#7c7c7c" stroke-width="0.65"/>
<circle cx="259.53" cy="37.05" r="1.55" fill="#ededed" stroke="#7c7c7c" stroke-width="0.65"/>
<circle cx="263.30" cy="37.05" r="1.55" fill="#f58a1f" stroke="#b8621a" stroke-width="0.6"/>
<circle cx="267.07" cy="37.05" r="1.55" fill="#f58a1f" stroke="#b8621a" stroke-width="0.6"/>
<circle cx="270.84" cy="37.05" r="1.55" fill="#f58a1f" stroke="#b8621a" stroke-width="0.6"/>
<circle cx="274.61" cy="37.05" r="1.55" fill="#ededed" stroke="#7c7c7c" stroke-width="0.65"/>
<circle cx="278.38" cy="37.05" r="1.55" fill="#ededed" stroke="#7c7c7c" stroke-width="0.65"/>
<circle cx="282.15" cy="37.05" r="1.55" fill="#f58a1f" stroke="#b8621a" stroke-width="0.6"/>
<circle cx="285.92" cy="37.05" r="1.55" fill="#f58a1f" stroke="#b8621a" stroke-width="0.6"/>
<circle cx="289.69" cy="37.05" r="1.55" fill="#ededed" stroke="#7c7c7c" stroke-width="0.65"/>
<circle cx="293.46" cy="37.05" r="1.55" fill="#ededed" stroke="#7c7c7c" stroke-width="0.65"/>
<circle cx="297.23" cy="37.05" r="1.55" fill="#ededed" stroke="#7c7c7c" stroke-width="0.65"/>
<circle cx="301.00" cy="37.05" r="1.55" fill="#ededed" stroke="#7c7c7c" stroke-width="0.65"/>
<circle cx="304.77" cy="37.05" r="1.55" fill="#ededed" stroke="#7c7c7c" stroke-width="0.65"/>
<circle cx="308.54" cy="37.05" r="1.55" fill="#ededed" stroke="#7c7c7c" stroke-width="0.65"/>
<circle cx="327.60" cy="37.05" r="1.55" fill="#ededed" stroke="#7c7c7c" stroke-width="0.65"/>
<circle cx="331.37" cy="37.05" r="1.55" fill="#ededed" stroke="#7c7c7c" stroke-width="0.65"/>
<circle cx="335.14" cy="37.05" r="1.55" fill="#ededed" stroke="#7c7c7c" stroke-width="0.65"/>
<circle cx="338.91" cy="37.05" r="1.55" fill="#ededed" stroke="#7c7c7c" stroke-width="0.65"/>
<circle cx="342.68" cy="37.05" r="1.55" fill="#ededed" stroke="#7c7c7c" stroke-width="0.65"/>
<circle cx="346.45" cy="37.05" r="1.55" fill="#ededed" stroke="#7c7c7c" stroke-width="0.65"/>
<circle cx="350.22" cy="37.05" r="1.55" fill="#ededed" stroke="#7c7c7c" stroke-width="0.65"/>
<circle cx="353.99" cy="37.05" r="1.55" fill="#ededed" stroke="#7c7c7c" stroke-width="0.65"/>
<circle cx="357.76" cy="37.05" r="1.55" fill="#ededed" stroke="#7c7c7c" stroke-width="0.65"/>
<circle cx="361.53" cy="37.05" r="1.55" fill="#ededed" stroke="#7c7c7c" stroke-width="0.65"/>
<circle cx="365.30" cy="37.05" r="1.55" fill="#f58a1f" stroke="#b8621a" stroke-width="0.6"/>
<circle cx="369.07" cy="37.05" r="1.55" fill="#f58a1f" stroke="#b8621a" stroke-width="0.6"/>
<circle cx="372.84" cy="37.05" r="1.55" fill="#ededed" stroke="#7c7c7c" stroke-width="0.65"/>
<circle cx="376.61" cy="37.05" r="1.55" fill="#ededed" stroke="#7c7c7c" stroke-width="0.65"/>
<circle cx="380.38" cy="37.05" r="1.55" fill="#f58a1f" stroke="#b8621a" stroke-width="0.6"/>
<circle cx="384.15" cy="37.05" r="1.55" fill="#f58a1f" stroke="#b8621a" stroke-width="0.6"/>
<circle cx="387.92" cy="37.05" r="1.55" fill="#f58a1f" stroke="#b8621a" stroke-width="0.6"/>
<circle cx="391.69" cy="37.05" r="1.55" fill="#ededed" stroke="#7c7c7c" stroke-width="0.65"/>
<circle cx="395.46" cy="37.05" r="1.55" fill="#ededed" stroke="#7c7c7c" stroke-width="0.65"/>
<circle cx="399.23" cy="37.05" r="1.55" fill="#f58a1f" stroke="#b8621a" stroke-width="0.6"/>
<circle cx="403.00" cy="37.05" r="1.55" fill="#f58a1f" stroke="#b8621a" stroke-width="0.6"/>
<circle cx="406.77" cy="37.05" r="1.55" fill="#ededed" stroke="#7c7c7c" stroke-width="0.65"/>
<circle cx="410.54" cy="37.05" r="1.55" fill="#ededed" stroke="#7c7c7c" stroke-width="0.65"/>
<circle cx="414.31" cy="37.05" r="1.55" fill="#f58a1f" stroke="#b8621a" stroke-width="0.6"/>
<circle cx="418.08" cy="37.05" r="1.55" fill="#f58a1f" stroke="#b8621a" stroke-width="0.6"/>
<circle cx="421.85" cy="37.05" r="1.55" fill="#ededed" stroke="#7c7c7c" stroke-width="0.65"/>
<circle cx="425.62" cy="37.05" r="1.55" fill="#ededed" stroke="#7c7c7c" stroke-width="0.65"/>
<circle cx="429.39" cy="37.05" r="1.55" fill="#f58a1f" stroke="#b8621a" stroke-width="0.6"/>
<circle cx="433.16" cy="37.05" r="1.55" fill="#f58a1f" stroke="#b8621a" stroke-width="0.6"/>
<path d="M312.7 36.7 L312.5 42.3 L312.3 47.8 L311.7 53.3 L311.0 59.0 L310.5 64.6 L309.8 70.2 L304.4 71.6 L300.2 75.5 L298.0 80.9 L292.3 80.9 L286.8 80.6 L283.5 76.0 L278.5 73.3 L273.3 73.8 L269.0 77.3 L267.2 82.1 L268.2 87.1 L271.9 91.2 L277.7 92.0 L282.9 89.7 L286.5 86.3 L292.3 86.5 L298.0 86.5 L300.5 91.7 L298.0 97.4 L296.1 103.0 L294.9 108.9 L293.9 114.6 L293.1 120.2 L288.2 123.2 L286.3 128.5 L288.2 134.1 L293.3 136.8 L299.0 135.6 L302.7 131.2 L302.7 125.5 L299.0 121.2 L299.8 115.5 L300.5 109.9 L301.7 104.5 L303.6 99.4 L305.6 94.6 L311.4 95.5 L316.7 94.3 L321.1 90.7 L323.3 85.3 L322.8 79.4 L327.3 77.7 L332.9 77.0 L338.7 76.0 L344.4 75.8 L348.2 80.4 L353.9 80.9 L358.6 78.2 L360.2 72.6 L358.0 67.4 L352.9 64.3 L347.2 65.6 L343.8 70.2 L337.7 70.6 L331.9 71.4 L326.0 72.6 L320.2 74.4 L315.6 70.7 L316.4 65.1 L317.1 59.2 L317.6 53.5 L317.9 48.0 L318.2 42.3 L318.3 36.7 L323.4 36.7" fill="none" stroke="#17606b" stroke-width="0.6"/>
<path d="M312.7 36.7L318.3 36.7" stroke="#17606b" stroke-width="0.6"/>
<path d="M312.5 42.3L318.2 42.3" stroke="#17606b" stroke-width="0.6"/>
<path d="M312.3 47.8L317.9 48.0" stroke="#17606b" stroke-width="0.6"/>
<path d="M311.7 53.3L317.6 53.5" stroke="#17606b" stroke-width="0.6"/>
<path d="M311.0 59.0L317.1 59.2" stroke="#17606b" stroke-width="0.6"/>
<path d="M310.5 64.6L316.4 65.1" stroke="#17606b" stroke-width="0.6"/>
<path d="M309.8 70.2L315.6 70.7" stroke="#17606b" stroke-width="0.6"/>
<path d="M298.0 80.9L298.0 86.5" stroke="#17606b" stroke-width="0.6"/>
<path d="M292.3 80.9L292.3 86.5" stroke="#17606b" stroke-width="0.6"/>
<path d="M286.8 80.6L286.5 86.3" stroke="#17606b" stroke-width="0.6"/>
<path d="M300.5 91.7L305.6 94.6" stroke="#17606b" stroke-width="0.6"/>
<path d="M298.0 97.4L303.6 99.4" stroke="#17606b" stroke-width="0.6"/>
<path d="M296.1 103.0L301.7 104.5" stroke="#17606b" stroke-width="0.6"/>
<path d="M294.9 108.9L300.5 109.9" stroke="#17606b" stroke-width="0.6"/>
<path d="M293.9 114.6L299.8 115.5" stroke="#17606b" stroke-width="0.6"/>
<path d="M293.1 120.2L299.0 121.2" stroke="#17606b" stroke-width="0.6"/>
<path d="M327.3 77.7L326.0 72.6" stroke="#17606b" stroke-width="0.6"/>
<path d="M332.9 77.0L331.9 71.4" stroke="#17606b" stroke-width="0.6"/>
<path d="M338.7 76.0L337.7 70.6" stroke="#17606b" stroke-width="0.6"/>
<path d="M344.4 75.8L343.8 70.2" stroke="#17606b" stroke-width="0.6"/>
<circle cx="312.7" cy="36.7" r="2.2" fill="#2e95a3" stroke="#14555f" stroke-width="0.6"/>
<circle cx="312.5" cy="42.3" r="2.2" fill="#2e95a3" stroke="#14555f" stroke-width="0.6"/>
<circle cx="312.3" cy="47.8" r="2.2" fill="#2e95a3" stroke="#14555f" stroke-width="0.6"/>
<circle cx="311.7" cy="53.3" r="2.2" fill="#2e95a3" stroke="#14555f" stroke-width="0.6"/>
<circle cx="311.0" cy="59.0" r="2.2" fill="#2e95a3" stroke="#14555f" stroke-width="0.6"/>
<circle cx="310.5" cy="64.6" r="2.2" fill="#2e95a3" stroke="#14555f" stroke-width="0.6"/>
<circle cx="309.8" cy="70.2" r="2.2" fill="#2e95a3" stroke="#14555f" stroke-width="0.6"/>
<circle cx="304.4" cy="71.6" r="2.2" fill="#ec5c2c" stroke="#a83a16" stroke-width="0.6"/>
<circle cx="300.2" cy="75.5" r="2.2" fill="#ec5c2c" stroke="#a83a16" stroke-width="0.6"/>
<circle cx="298.0" cy="80.9" r="2.2" fill="#2e95a3" stroke="#14555f" stroke-width="0.6"/>
<circle cx="292.3" cy="80.9" r="2.2" fill="#2e95a3" stroke="#14555f" stroke-width="0.6"/>
<circle cx="286.8" cy="80.6" r="2.2" fill="#2e95a3" stroke="#14555f" stroke-width="0.6"/>
<circle cx="283.5" cy="76.0" r="2.2" fill="#2e95a3" stroke="#14555f" stroke-width="0.6"/>
<circle cx="278.5" cy="73.3" r="2.2" fill="#ec5c2c" stroke="#a83a16" stroke-width="0.6"/>
<circle cx="273.3" cy="73.8" r="2.2" fill="#ec5c2c" stroke="#a83a16" stroke-width="0.6"/>
<circle cx="269.0" cy="77.3" r="2.2" fill="#ec5c2c" stroke="#a83a16" stroke-width="0.6"/>
<circle cx="267.2" cy="82.1" r="2.2" fill="#ec5c2c" stroke="#a83a16" stroke-width="0.6"/>
<circle cx="268.2" cy="87.1" r="2.2" fill="#ec5c2c" stroke="#a83a16" stroke-width="0.6"/>
<circle cx="271.9" cy="91.2" r="2.2" fill="#ec5c2c" stroke="#a83a16" stroke-width="0.6"/>
<circle cx="277.7" cy="92.0" r="2.2" fill="#ec5c2c" stroke="#a83a16" stroke-width="0.6"/>
<circle cx="282.9" cy="89.7" r="2.2" fill="#2e95a3" stroke="#14555f" stroke-width="0.6"/>
<circle cx="286.5" cy="86.3" r="2.2" fill="#2e95a3" stroke="#14555f" stroke-width="0.6"/>
<circle cx="292.3" cy="86.5" r="2.2" fill="#2e95a3" stroke="#14555f" stroke-width="0.6"/>
<circle cx="298.0" cy="86.5" r="2.2" fill="#2e95a3" stroke="#14555f" stroke-width="0.6"/>
<circle cx="300.5" cy="91.7" r="2.2" fill="#2e95a3" stroke="#14555f" stroke-width="0.6"/>
<circle cx="298.0" cy="97.4" r="2.2" fill="#2e95a3" stroke="#14555f" stroke-width="0.6"/>
<circle cx="296.1" cy="103.0" r="2.2" fill="#2e95a3" stroke="#14555f" stroke-width="0.6"/>
<circle cx="294.9" cy="108.9" r="2.2" fill="#2e95a3" stroke="#14555f" stroke-width="0.6"/>
<circle cx="293.9" cy="114.6" r="2.2" fill="#2e95a3" stroke="#14555f" stroke-width="0.6"/>
<circle cx="293.1" cy="120.2" r="2.2" fill="#2e95a3" stroke="#14555f" stroke-width="0.6"/>
<circle cx="288.2" cy="123.2" r="2.2" fill="#2e95a3" stroke="#14555f" stroke-width="0.6"/>
<circle cx="286.3" cy="128.5" r="2.2" fill="#2e95a3" stroke="#14555f" stroke-width="0.6"/>
<circle cx="288.2" cy="134.1" r="2.2" fill="#2e95a3" stroke="#14555f" stroke-width="0.6"/>
<circle cx="293.3" cy="136.8" r="2.2" fill="#2e95a3" stroke="#14555f" stroke-width="0.6"/>
<circle cx="299.0" cy="135.6" r="2.2" fill="#2e95a3" stroke="#14555f" stroke-width="0.6"/>
<circle cx="302.7" cy="131.2" r="2.2" fill="#2e95a3" stroke="#14555f" stroke-width="0.6"/>
<circle cx="302.7" cy="125.5" r="2.2" fill="#2e95a3" stroke="#14555f" stroke-width="0.6"/>
<circle cx="299.0" cy="121.2" r="2.2" fill="#2e95a3" stroke="#14555f" stroke-width="0.6"/>
<circle cx="299.8" cy="115.5" r="2.2" fill="#2e95a3" stroke="#14555f" stroke-width="0.6"/>
<circle cx="300.5" cy="109.9" r="2.2" fill="#2e95a3" stroke="#14555f" stroke-width="0.6"/>
<circle cx="301.7" cy="104.5" r="2.2" fill="#2e95a3" stroke="#14555f" stroke-width="0.6"/>
<circle cx="303.6" cy="99.4" r="2.2" fill="#2e95a3" stroke="#14555f" stroke-width="0.6"/>
<circle cx="305.6" cy="94.6" r="2.2" fill="#2e95a3" stroke="#14555f" stroke-width="0.6"/>
<circle cx="311.4" cy="95.5" r="2.2" fill="#2e95a3" stroke="#14555f" stroke-width="0.6"/>
<circle cx="316.7" cy="94.3" r="2.2" fill="#2e95a3" stroke="#14555f" stroke-width="0.6"/>
<circle cx="321.1" cy="90.7" r="2.2" fill="#2e95a3" stroke="#14555f" stroke-width="0.6"/>
<circle cx="323.3" cy="85.3" r="2.2" fill="#2e95a3" stroke="#14555f" stroke-width="0.6"/>
<circle cx="322.8" cy="79.4" r="2.2" fill="#2e95a3" stroke="#14555f" stroke-width="0.6"/>
<circle cx="327.3" cy="77.7" r="2.2" fill="#2e95a3" stroke="#14555f" stroke-width="0.6"/>
<circle cx="332.9" cy="77.0" r="2.2" fill="#2e95a3" stroke="#14555f" stroke-width="0.6"/>
<circle cx="338.7" cy="76.0" r="2.2" fill="#2e95a3" stroke="#14555f" stroke-width="0.6"/>
<circle cx="344.4" cy="75.8" r="2.2" fill="#2e95a3" stroke="#14555f" stroke-width="0.6"/>
<circle cx="348.2" cy="80.4" r="2.2" fill="#ec5c2c" stroke="#a83a16" stroke-width="0.6"/>
<circle cx="353.9" cy="80.9" r="2.2" fill="#ec5c2c" stroke="#a83a16" stroke-width="0.6"/>
<circle cx="358.6" cy="78.2" r="2.2" fill="#ec5c2c" stroke="#a83a16" stroke-width="0.6"/>
<circle cx="360.2" cy="72.6" r="2.2" fill="#ec5c2c" stroke="#a83a16" stroke-width="0.6"/>
<circle cx="358.0" cy="67.4" r="2.2" fill="#ec5c2c" stroke="#a83a16" stroke-width="0.6"/>
<circle cx="352.9" cy="64.3" r="2.2" fill="#ec5c2c" stroke="#a83a16" stroke-width="0.6"/>
<circle cx="347.2" cy="65.6" r="2.2" fill="#ec5c2c" stroke="#a83a16" stroke-width="0.6"/>
<circle cx="343.8" cy="70.2" r="2.2" fill="#2e95a3" stroke="#14555f" stroke-width="0.6"/>
<circle cx="337.7" cy="70.6" r="2.2" fill="#2e95a3" stroke="#14555f" stroke-width="0.6"/>
<circle cx="331.9" cy="71.4" r="2.2" fill="#2e95a3" stroke="#14555f" stroke-width="0.6"/>
<circle cx="326.0" cy="72.6" r="2.2" fill="#2e95a3" stroke="#14555f" stroke-width="0.6"/>
<circle cx="320.2" cy="74.4" r="2.2" fill="#2e95a3" stroke="#14555f" stroke-width="0.6"/>
<circle cx="315.6" cy="70.7" r="2.2" fill="#2e95a3" stroke="#14555f" stroke-width="0.6"/>
<circle cx="316.4" cy="65.1" r="2.2" fill="#2e95a3" stroke="#14555f" stroke-width="0.6"/>
<circle cx="317.1" cy="59.2" r="2.2" fill="#2e95a3" stroke="#14555f" stroke-width="0.6"/>
<circle cx="317.6" cy="53.5" r="2.2" fill="#2e95a3" stroke="#14555f" stroke-width="0.6"/>
<circle cx="317.9" cy="48.0" r="2.2" fill="#2e95a3" stroke="#14555f" stroke-width="0.6"/>
<circle cx="318.2" cy="42.3" r="2.2" fill="#2e95a3" stroke="#14555f" stroke-width="0.6"/>
<circle cx="318.3" cy="36.7" r="2.2" fill="#2e95a3" stroke="#14555f" stroke-width="0.6"/>
<circle cx="323.4" cy="36.7" r="2.2" fill="#2e95a3" stroke="#14555f" stroke-width="0.6"/>
<text x="312.7" y="37.9" font-size="3.2" text-anchor="middle" fill="#fff" fill-opacity="0.5">G</text>
<text x="312.5" y="43.4" font-size="3.2" text-anchor="middle" fill="#fff" fill-opacity="0.5">G</text>
<text x="312.3" y="48.9" font-size="3.2" text-anchor="middle" fill="#fff" fill-opacity="0.5">C</text>
<text x="311.7" y="54.4" font-size="3.2" text-anchor="middle" fill="#fff" fill-opacity="0.5">T</text>
<text x="311.0" y="60.1" font-size="3.2" text-anchor="middle" fill="#fff" fill-opacity="0.5">C</text>
<text x="310.5" y="65.8" font-size="3.2" text-anchor="middle" fill="#fff" fill-opacity="0.5">G</text>
<text x="309.8" y="71.4" font-size="3.2" text-anchor="middle" fill="#fff" fill-opacity="0.5">T</text>
<text x="304.4" y="72.8" font-size="3.2" text-anchor="middle" fill="#fff" fill-opacity="0.5">T</text>
<text x="300.2" y="76.7" font-size="3.2" text-anchor="middle" fill="#fff" fill-opacity="0.5">G</text>
<text x="298.0" y="82.1" font-size="3.2" text-anchor="middle" fill="#fff" fill-opacity="0.5">G</text>
<text x="292.3" y="82.1" font-size="3.2" text-anchor="middle" fill="#fff" fill-opacity="0.5">T</text>
<text x="286.8" y="81.8" font-size="3.2" text-anchor="middle" fill="#fff" fill-opacity="0.5">C</text>
<text x="283.5" y="77.2" font-size="3.2" text-anchor="middle" fill="#fff" fill-opacity="0.5">T</text>
<text x="278.5" y="74.5" font-size="3.2" text-anchor="middle" fill="#fff" fill-opacity="0.5">A</text>
<text x="273.3" y="75.0" font-size="3.2" text-anchor="middle" fill="#fff" fill-opacity="0.5">G</text>
<text x="269.0" y="78.5" font-size="3.2" text-anchor="middle" fill="#fff" fill-opacity="0.5">G</text>
<text x="267.2" y="83.2" font-size="3.2" text-anchor="middle" fill="#fff" fill-opacity="0.5">G</text>
<text x="268.2" y="88.2" font-size="3.2" text-anchor="middle" fill="#fff" fill-opacity="0.5">G</text>
<text x="271.9" y="92.4" font-size="3.2" text-anchor="middle" fill="#fff" fill-opacity="0.5">T</text>
<text x="277.7" y="93.2" font-size="3.2" text-anchor="middle" fill="#fff" fill-opacity="0.5">A</text>
<text x="282.9" y="90.9" font-size="3.2" text-anchor="middle" fill="#fff" fill-opacity="0.5">T</text>
<text x="286.5" y="87.5" font-size="3.2" text-anchor="middle" fill="#fff" fill-opacity="0.5">G</text>
<text x="292.3" y="87.7" font-size="3.2" text-anchor="middle" fill="#fff" fill-opacity="0.5">A</text>
<text x="298.0" y="87.7" font-size="3.2" text-anchor="middle" fill="#fff" fill-opacity="0.5">T</text>
<text x="300.5" y="92.9" font-size="3.2" text-anchor="middle" fill="#fff" fill-opacity="0.5">T</text>
<text x="298.0" y="98.6" font-size="3.2" text-anchor="middle" fill="#fff" fill-opacity="0.5">C</text>
<text x="296.1" y="104.2" font-size="3.2" text-anchor="middle" fill="#fff" fill-opacity="0.5">T</text>
<text x="294.9" y="110.1" font-size="3.2" text-anchor="middle" fill="#fff" fill-opacity="0.5">C</text>
<text x="293.9" y="115.8" font-size="3.2" text-anchor="middle" fill="#fff" fill-opacity="0.5">G</text>
<text x="293.1" y="121.4" font-size="3.2" text-anchor="middle" fill="#fff" fill-opacity="0.5">C</text>
<text x="288.2" y="124.4" font-size="3.2" text-anchor="middle" fill="#fff" fill-opacity="0.5">T</text>
<text x="286.3" y="129.7" font-size="3.2" text-anchor="middle" fill="#fff" fill-opacity="0.5">T</text>
<text x="288.2" y="135.2" font-size="3.2" text-anchor="middle" fill="#fff" fill-opacity="0.5">A</text>
<text x="293.3" y="138.0" font-size="3.2" text-anchor="middle" fill="#fff" fill-opacity="0.5">G</text>
<text x="299.0" y="136.8" font-size="3.2" text-anchor="middle" fill="#fff" fill-opacity="0.5">G</text>
<text x="302.7" y="132.3" font-size="3.2" text-anchor="middle" fill="#fff" fill-opacity="0.5">G</text>
<text x="302.7" y="126.7" font-size="3.2" text-anchor="middle" fill="#fff" fill-opacity="0.5">T</text>
<text x="299.0" y="122.4" font-size="3.2" text-anchor="middle" fill="#fff" fill-opacity="0.5">G</text>
<text x="299.8" y="116.7" font-size="3.2" text-anchor="middle" fill="#fff" fill-opacity="0.5">C</text>
<text x="300.5" y="111.1" font-size="3.2" text-anchor="middle" fill="#fff" fill-opacity="0.5">G</text>
<text x="301.7" y="105.7" font-size="3.2" text-anchor="middle" fill="#fff" fill-opacity="0.5">A</text>
<text x="303.6" y="100.6" font-size="3.2" text-anchor="middle" fill="#fff" fill-opacity="0.5">G</text>
<text x="305.6" y="95.8" font-size="3.2" text-anchor="middle" fill="#fff" fill-opacity="0.5">A</text>
<text x="311.4" y="96.7" font-size="3.2" text-anchor="middle" fill="#fff" fill-opacity="0.5">G</text>
<text x="316.7" y="95.5" font-size="3.2" text-anchor="middle" fill="#fff" fill-opacity="0.5">G</text>
<text x="321.1" y="91.9" font-size="3.2" text-anchor="middle" fill="#fff" fill-opacity="0.5">T</text>
<text x="323.3" y="86.5" font-size="3.2" text-anchor="middle" fill="#fff" fill-opacity="0.5">C</text>
<text x="322.8" y="80.6" font-size="3.2" text-anchor="middle" fill="#fff" fill-opacity="0.5">C</text>
<text x="327.3" y="78.9" font-size="3.2" text-anchor="middle" fill="#fff" fill-opacity="0.5">C</text>
<text x="332.9" y="78.2" font-size="3.2" text-anchor="middle" fill="#fff" fill-opacity="0.5">G</text>
<text x="338.7" y="77.2" font-size="3.2" text-anchor="middle" fill="#fff" fill-opacity="0.5">G</text>
<text x="344.4" y="77.0" font-size="3.2" text-anchor="middle" fill="#fff" fill-opacity="0.5">G</text>
<text x="348.2" y="81.6" font-size="3.2" text-anchor="middle" fill="#fff" fill-opacity="0.5">T</text>
<text x="353.9" y="82.1" font-size="3.2" text-anchor="middle" fill="#fff" fill-opacity="0.5">T</text>
<text x="358.6" y="79.4" font-size="3.2" text-anchor="middle" fill="#fff" fill-opacity="0.5">C</text>
<text x="360.2" y="73.8" font-size="3.2" text-anchor="middle" fill="#fff" fill-opacity="0.5">A</text>
<text x="358.0" y="68.6" font-size="3.2" text-anchor="middle" fill="#fff" fill-opacity="0.5">A</text>
<text x="352.9" y="65.5" font-size="3.2" text-anchor="middle" fill="#fff" fill-opacity="0.5">A</text>
<text x="347.2" y="66.8" font-size="3.2" text-anchor="middle" fill="#fff" fill-opacity="0.5">T</text>
<text x="343.8" y="71.4" font-size="3.2" text-anchor="middle" fill="#fff" fill-opacity="0.5">C</text>
<text x="337.7" y="71.8" font-size="3.2" text-anchor="middle" fill="#fff" fill-opacity="0.5">C</text>
<text x="331.9" y="72.6" font-size="3.2" text-anchor="middle" fill="#fff" fill-opacity="0.5">C</text>
<text x="326.0" y="73.8" font-size="3.2" text-anchor="middle" fill="#fff" fill-opacity="0.5">G</text>
<text x="320.2" y="75.6" font-size="3.2" text-anchor="middle" fill="#fff" fill-opacity="0.5">G</text>
<text x="315.6" y="71.9" font-size="3.2" text-anchor="middle" fill="#fff" fill-opacity="0.5">A</text>
<text x="316.4" y="66.2" font-size="3.2" text-anchor="middle" fill="#fff" fill-opacity="0.5">C</text>
<text x="317.1" y="60.4" font-size="3.2" text-anchor="middle" fill="#fff" fill-opacity="0.5">G</text>
<text x="317.6" y="54.6" font-size="3.2" text-anchor="middle" fill="#fff" fill-opacity="0.5">A</text>
<text x="317.9" y="49.1" font-size="3.2" text-anchor="middle" fill="#fff" fill-opacity="0.5">G</text>
<text x="318.2" y="43.4" font-size="3.2" text-anchor="middle" fill="#fff" fill-opacity="0.5">C</text>
<text x="318.3" y="37.9" font-size="3.2" text-anchor="middle" fill="#fff" fill-opacity="0.5">C</text>
<text x="323.4" y="37.9" font-size="3.2" text-anchor="middle" fill="#fff" fill-opacity="0.5">C</text>
<text x="325.30" y="44.10" font-size="4.50" text-anchor="middle" fill="#1a1a1a">70</text>
<text x="341.70" y="66.50" font-size="4.50" text-anchor="middle" fill="#1a1a1a">60</text>
<text x="333.30" y="84.30" font-size="4.50" text-anchor="middle" fill="#1a1a1a">50</text>
<text x="306.80" y="111.40" font-size="4.50" text-anchor="middle" fill="#1a1a1a">40</text>
<text x="288.20" y="119.00" font-size="4.50" text-anchor="middle" fill="#1a1a1a">30</text>
<text x="277.50" y="98.20" font-size="4.50" text-anchor="middle" fill="#1a1a1a">20</text>
<text x="294.10" y="77.70" font-size="4.50" text-anchor="middle" fill="#1a1a1a">10</text>
<text x="276.80" y="67.20" font-size="7.40" text-anchor="middle" fill="#161616">D-loop</text>
<text x="356.15" y="93.80" font-size="7.81" text-anchor="middle" fill="#161616">T-loop</text>
<text x="262.50" y="137.00" font-size="7.64" text-anchor="middle" fill="#161616">Anticodon</text>
<text x="340.45" y="108.60" font-size="7.50" text-anchor="middle" fill="#161616">tRNA Library</text>
<text x="340.05" y="117.80" font-size="7.50" text-anchor="middle" fill="#e8572a">(6% each base)</text>
<text x="0.60" y="282.40" font-size="12.00" text-anchor="start" fill="#000" font-weight="bold">b</text>
<text x="109.00" y="285.40" font-size="7.77" fill="#222">Location in tRNA<tspan dy="-2.80" font-size="4.82">Pro</tspan></text>
<rect x="18.90" y="302.60" width="251.82" height="59.20" fill="#fff"/>
<rect x="18.90" y="302.60" width="13.99" height="14.80" fill="#7478c0" stroke="#111" stroke-width="0.45"/>
<rect x="32.89" y="302.60" width="13.99" height="14.80" fill="#c5c3e6" stroke="#111" stroke-width="0.45"/>
<rect x="60.87" y="302.60" width="13.99" height="14.80" fill="url(#hat)" stroke="#111" stroke-width="0.45"/>
<rect x="74.86" y="302.60" width="13.99" height="14.80" fill="#4a3a9c" stroke="#111" stroke-width="0.45"/>
<rect x="88.85" y="302.60" width="13.99" height="14.80" fill="#a5a3d8" stroke="#111" stroke-width="0.45"/>
<rect x="102.84" y="302.60" width="13.99" height="14.80" fill="#4b3f9f" stroke="#111" stroke-width="0.45"/>
<rect x="116.83" y="302.60" width="13.99" height="14.80" fill="#3a4ca6" stroke="#111" stroke-width="0.45"/>
<rect x="130.82" y="302.60" width="13.99" height="14.80" fill="#5a5fb3" stroke="#111" stroke-width="0.45"/>
<rect x="144.81" y="302.60" width="13.99" height="14.80" fill="url(#hat)" stroke="#111" stroke-width="0.45"/>
<rect x="172.79" y="302.60" width="13.99" height="14.80" fill="#f5a828" stroke="#111" stroke-width="0.45"/>
<rect x="186.78" y="302.60" width="13.99" height="14.80" fill="#ffffff" stroke="#111" stroke-width="0.45"/>
<rect x="200.77" y="302.60" width="13.99" height="14.80" fill="#3a4ca6" stroke="#111" stroke-width="0.45"/>
<rect x="214.76" y="302.60" width="13.99" height="14.80" fill="url(#hat)" stroke="#111" stroke-width="0.45"/>
<rect x="228.75" y="302.60" width="13.99" height="14.80" fill="url(#hat)" stroke="#111" stroke-width="0.45"/>
<rect x="242.74" y="302.60" width="13.99" height="14.80" fill="url(#hat)" stroke="#111" stroke-width="0.45"/>
<rect x="256.73" y="302.60" width="13.99" height="14.80" fill="#ffffff" stroke="#111" stroke-width="0.45"/>
<rect x="18.90" y="317.40" width="13.99" height="14.80" fill="#4b3f9f" stroke="#111" stroke-width="0.45"/>
<rect x="32.89" y="317.40" width="13.99" height="14.80" fill="url(#hat)" stroke="#111" stroke-width="0.45"/>
<rect x="60.87" y="317.40" width="13.99" height="14.80" fill="#3a4ca6" stroke="#111" stroke-width="0.45"/>
<rect x="74.86" y="317.40" width="13.99" height="14.80" fill="url(#hat)" stroke="#111" stroke-width="0.45"/>
<rect x="88.85" y="317.40" width="13.99" height="14.80" fill="url(#hat)" stroke="#111" stroke-width="0.45"/>
<rect x="102.84" y="317.40" width="13.99" height="14.80" fill="url(#hat)" stroke="#111" stroke-width="0.45"/>
<rect x="116.83" y="317.40" width="13.99" height="14.80" fill="url(#hat)" stroke="#111" stroke-width="0.45"/>
<rect x="130.82" y="317.40" width="13.99" height="14.80" fill="#4f56ae" stroke="#111" stroke-width="0.45"/>
<rect x="144.81" y="317.40" width="13.99" height="14.80" fill="#4b3f9f" stroke="#111" stroke-width="0.45"/>
<rect x="172.79" y="317.40" width="13.99" height="14.80" fill="#ffffff" stroke="#111" stroke-width="0.45"/>
<rect x="186.78" y="317.40" width="13.99" height="14.80" fill="#3a4ca6" stroke="#111" stroke-width="0.45"/>
<rect x="200.77" y="317.40" width="13.99" height="14.80" fill="#4f56ae" stroke="#111" stroke-width="0.45"/>
<rect x="214.76" y="317.40" width="13.99" height="14.80" fill="#5058af" stroke="#111" stroke-width="0.45"/>
<rect x="228.75" y="317.40" width="13.99" height="14.80" fill="#f7b84a" stroke="#111" stroke-width="0.45"/>
<rect x="242.74" y="317.40" width="13.99" height="14.80" fill="#e8e8f5" stroke="#111" stroke-width="0.45"/>
<rect x="256.73" y="317.40" width="13.99" height="14.80" fill="#f9cc7a" stroke="#111" stroke-width="0.45"/>
<rect x="18.90" y="332.20" width="13.99" height="14.80" fill="url(#hat)" stroke="#111" stroke-width="0.45"/>
<rect x="32.89" y="332.20" width="13.99" height="14.80" fill="#6a208c" stroke="#111" stroke-width="0.45"/>
<rect x="60.87" y="332.20" width="13.99" height="14.80" fill="#5a5fb3" stroke="#111" stroke-width="0.45"/>
<rect x="74.86" y="332.20" width="13.99" height="14.80" fill="#4a45a3" stroke="#111" stroke-width="0.45"/>
<rect x="88.85" y="332.20" width="13.99" height="14.80" fill="#c5c3e6" stroke="#111" stroke-width="0.45"/>
<rect x="102.84" y="332.20" width="13.99" height="14.80" fill="#4a55ad" stroke="#111" stroke-width="0.45"/>
<rect x="116.83" y="332.20" width="13.99" height="14.80" fill="#3f4aa5" stroke="#111" stroke-width="0.45"/>
<rect x="130.82" y="332.20" width="13.99" height="14.80" fill="url(#hat)" stroke="#111" stroke-width="0.45"/>
<rect x="144.81" y="332.20" width="13.99" height="14.80" fill="#fdf3dc" stroke="#111" stroke-width="0.45"/>
<rect x="172.79" y="332.20" width="13.99" height="14.80" fill="url(#hat)" stroke="#111" stroke-width="0.45"/>
<rect x="186.78" y="332.20" width="13.99" height="14.80" fill="url(#hat)" stroke="#111" stroke-width="0.45"/>
<rect x="200.77" y="332.20" width="13.99" height="14.80" fill="#6a6fbb" stroke="#111" stroke-width="0.45"/>
<rect x="214.76" y="332.20" width="13.99" height="14.80" fill="#f7b544" stroke="#111" stroke-width="0.45"/>
<rect x="228.75" y="332.20" width="13.99" height="14.80" fill="#e8601c" stroke="#111" stroke-width="0.45"/>
<rect x="242.74" y="332.20" width="13.99" height="14.80" fill="#e8e8f5" stroke="#111" stroke-width="0.45"/>
<rect x="256.73" y="332.20" width="13.99" height="14.80" fill="url(#hat)" stroke="#111" stroke-width="0.45"/>
<rect x="18.90" y="347.00" width="13.99" height="14.80" fill="#7478c0" stroke="#111" stroke-width="0.45"/>
<rect x="32.89" y="347.00" width="13.99" height="14.80" fill="#3f4aa5" stroke="#111" stroke-width="0.45"/>
<rect x="60.87" y="347.00" width="13.99" height="14.80" fill="#fbd48e" stroke="#111" stroke-width="0.45"/>
<rect x="74.86" y="347.00" width="13.99" height="14.80" fill="#3a4ca6" stroke="#111" stroke-width="0.45"/>
<rect x="88.85" y="347.00" width="13.99" height="14.80" fill="#f5f5f5" stroke="#111" stroke-width="0.45"/>
<rect x="102.84" y="347.00" width="13.99" height="14.80" fill="#3a4ca6" stroke="#111" stroke-width="0.45"/>
<rect x="116.83" y="347.00" width="13.99" height="14.80" fill="#4b3f9f" stroke="#111" stroke-width="0.45"/>
<rect x="130.82" y="347.00" width="13.99" height="14.80" fill="#3a4ca6" stroke="#111" stroke-width="0.45"/>
<rect x="144.81" y="347.00" width="13.99" height="14.80" fill="#4f56ae" stroke="#111" stroke-width="0.45"/>
<rect x="172.79" y="347.00" width="13.99" height="14.80" fill="#ebebf7" stroke="#111" stroke-width="0.45"/>
<rect x="186.78" y="347.00" width="13.99" height="14.80" fill="#3a4ca6" stroke="#111" stroke-width="0.45"/>
<rect x="200.77" y="347.00" width="13.99" height="14.80" fill="url(#hat)" stroke="#111" stroke-width="0.45"/>
<rect x="214.76" y="347.00" width="13.99" height="14.80" fill="#ffffff" stroke="#111" stroke-width="0.45"/>
<rect x="228.75" y="347.00" width="13.99" height="14.80" fill="#fbd89a" stroke="#111" stroke-width="0.45"/>
<rect x="242.74" y="347.00" width="13.99" height="14.80" fill="#ffffff" stroke="#111" stroke-width="0.45"/>
<rect x="256.73" y="347.00" width="13.99" height="14.80" fill="#f5a828" stroke="#111" stroke-width="0.45"/>
<rect x="75.61" y="303.35" width="12.49" height="13.30" fill="none" stroke="#2ca030" stroke-width="1.3"/>
<rect x="117.58" y="303.35" width="12.49" height="13.30" fill="none" stroke="#2ca030" stroke-width="1.3"/>
<rect x="173.54" y="303.35" width="12.49" height="13.30" fill="none" stroke="#2ca030" stroke-width="1.3"/>
<rect x="201.52" y="303.35" width="12.49" height="13.30" fill="none" stroke="#2ca030" stroke-width="1.3"/>
<rect x="19.65" y="318.15" width="12.49" height="13.30" fill="none" stroke="#2ca030" stroke-width="1.3"/>
<rect x="61.62" y="318.15" width="12.49" height="13.30" fill="none" stroke="#2ca030" stroke-width="1.3"/>
<rect x="201.52" y="318.15" width="12.49" height="13.30" fill="none" stroke="#2ca030" stroke-width="1.3"/>
<rect x="215.51" y="318.15" width="12.49" height="13.30" fill="none" stroke="#2ca030" stroke-width="1.3"/>
<rect x="229.50" y="318.15" width="12.49" height="13.30" fill="none" stroke="#2ca030" stroke-width="1.3"/>
<rect x="257.48" y="318.15" width="12.49" height="13.30" fill="none" stroke="#2ca030" stroke-width="1.3"/>
<rect x="215.51" y="332.95" width="12.49" height="13.30" fill="none" stroke="#2ca030" stroke-width="1.3"/>
<rect x="229.50" y="332.95" width="12.49" height="13.30" fill="none" stroke="#2ca030" stroke-width="1.3"/>
<rect x="61.62" y="347.75" width="12.49" height="13.30" fill="none" stroke="#2ca030" stroke-width="1.3"/>
<rect x="75.61" y="347.75" width="12.49" height="13.30" fill="none" stroke="#2ca030" stroke-width="1.3"/>
<rect x="103.59" y="347.75" width="12.49" height="13.30" fill="none" stroke="#2ca030" stroke-width="1.3"/>
<rect x="131.57" y="347.75" width="12.49" height="13.30" fill="none" stroke="#2ca030" stroke-width="1.3"/>
<rect x="229.50" y="347.75" width="12.49" height="13.30" fill="none" stroke="#2ca030" stroke-width="1.3"/>
<rect x="257.48" y="347.75" width="12.49" height="13.30" fill="none" stroke="#2ca030" stroke-width="1.3"/>
<rect x="46.88" y="302.60" width="13.99" height="59.20" fill="#fff" stroke="#111" stroke-width="0.45"/>
<rect x="158.80" y="302.60" width="13.99" height="59.20" fill="#fff" stroke="#111" stroke-width="0.45"/>
<rect x="18.90" y="302.60" width="251.82" height="59.20" fill="none" stroke="#111" stroke-width="0.7"/>
<text x="24.89" y="298.60" font-size="6.90" text-anchor="middle" fill="#161616">8</text>
<text x="39.88" y="298.60" font-size="6.90" text-anchor="middle" fill="#161616">9</text>
<text x="67.87" y="298.60" font-size="6.90" text-anchor="middle" fill="#161616">14</text>
<text x="81.85" y="298.60" font-size="6.90" text-anchor="middle" fill="#161616">15</text>
<text x="95.84" y="298.60" font-size="6.90" text-anchor="middle" fill="#161616">16</text>
<text x="109.84" y="298.60" font-size="6.90" text-anchor="middle" fill="#161616">17</text>
<text x="123.82" y="298.60" font-size="6.90" text-anchor="middle" fill="#161616">18</text>
<text x="137.81" y="298.60" font-size="6.90" text-anchor="middle" fill="#161616">19</text>
<text x="151.81" y="298.60" font-size="6.90" text-anchor="middle" fill="#161616">20</text>
<text x="179.78" y="298.60" font-size="6.90" text-anchor="middle" fill="#161616">53</text>
<text x="193.78" y="298.60" font-size="6.90" text-anchor="middle" fill="#161616">54</text>
<text x="207.77" y="298.60" font-size="6.90" text-anchor="middle" fill="#161616">55</text>
<text x="221.75" y="298.60" font-size="6.90" text-anchor="middle" fill="#161616">56</text>
<text x="235.75" y="298.60" font-size="6.90" text-anchor="middle" fill="#161616">57</text>
<text x="249.74" y="298.60" font-size="6.90" text-anchor="middle" fill="#161616">58</text>
<text x="263.73" y="298.60" font-size="6.90" text-anchor="middle" fill="#161616">59</text>
<text x="13.00" y="312.20" font-size="6.90" text-anchor="middle" fill="#161616">A</text>
<text x="13.00" y="327.00" font-size="6.90" text-anchor="middle" fill="#161616">G</text>
<text x="13.00" y="341.80" font-size="6.90" text-anchor="middle" fill="#161616">T</text>
<text x="13.00" y="356.60" font-size="6.90" text-anchor="middle" fill="#161616">C</text>
<path d="M59.97 362.10V364.80H159.70V362.10" fill="none" stroke="#222" stroke-width="0.6"/>
<text x="109.90" y="373.70" font-size="7.44" text-anchor="middle" fill="#161616">D-loop variable bases</text>
<path d="M171.89 362.10V364.80H271.62V362.10" fill="none" stroke="#222" stroke-width="0.6"/>
<text x="221.90" y="373.70" font-size="7.45" text-anchor="middle" fill="#161616">T-loop variable bases</text>
<rect x="18.90" y="378.20" width="251.82" height="6.90" fill="url(#gb)" stroke="#111" stroke-width="0.7"/>
<path d="M21.20 385.10V387.10" stroke="#222" stroke-width="0.6"/>
<text x="21.20" y="396.50" font-size="6.90" text-anchor="middle" fill="#161616">−5</text>
<path d="M45.88 385.10V387.10" stroke="#222" stroke-width="0.6"/>
<text x="45.88" y="396.50" font-size="6.90" text-anchor="middle" fill="#161616">−4</text>
<path d="M70.56 385.10V387.10" stroke="#222" stroke-width="0.6"/>
<text x="70.56" y="396.50" font-size="6.90" text-anchor="middle" fill="#161616">−3</text>
<path d="M95.24 385.10V387.10" stroke="#222" stroke-width="0.6"/>
<text x="95.24" y="396.50" font-size="6.90" text-anchor="middle" fill="#161616">−2</text>
<path d="M119.92 385.10V387.10" stroke="#222" stroke-width="0.6"/>
<text x="119.92" y="396.50" font-size="6.90" text-anchor="middle" fill="#161616">−1</text>
<path d="M144.60 385.10V387.10" stroke="#222" stroke-width="0.6"/>
<text x="144.60" y="396.50" font-size="6.90" text-anchor="middle" fill="#161616">0</text>
<path d="M169.28 385.10V387.10" stroke="#222" stroke-width="0.6"/>
<text x="169.28" y="396.50" font-size="6.90" text-anchor="middle" fill="#161616">1</text>
<path d="M193.96 385.10V387.10" stroke="#222" stroke-width="0.6"/>
<text x="193.96" y="396.50" font-size="6.90" text-anchor="middle" fill="#161616">2</text>
<path d="M218.64 385.10V387.10" stroke="#222" stroke-width="0.6"/>
<text x="218.64" y="396.50" font-size="6.90" text-anchor="middle" fill="#161616">3</text>
<path d="M243.32 385.10V387.10" stroke="#222" stroke-width="0.6"/>
<text x="243.32" y="396.50" font-size="6.90" text-anchor="middle" fill="#161616">4</text>
<path d="M268.00 385.10V387.10" stroke="#222" stroke-width="0.6"/>
<text x="268.00" y="396.50" font-size="6.90" text-anchor="middle" fill="#161616">5</text>
<text x="143.65" y="408.20" font-size="7.54" text-anchor="middle" fill="#161616">Log2 (observed reads / expected reads)</text>
<text x="0.60" y="430.50" font-size="12.00" text-anchor="start" fill="#000" font-weight="bold">d</text>
<text x="113.30" y="433.50" font-size="7.73" fill="#222">Location in tRNA<tspan dy="-2.78" font-size="4.80">Pro</tspan></text>
<rect x="19.00" y="450.50" width="251.64" height="59.00" fill="#fff"/>
<rect x="19.00" y="450.50" width="13.98" height="14.75" fill="#e2471f" stroke="#111" stroke-width="0.45"/>
<rect x="32.98" y="450.50" width="13.98" height="14.75" fill="#e54f20" stroke="#111" stroke-width="0.45"/>
<rect x="60.94" y="450.50" width="13.98" height="14.75" fill="url(#hat)" stroke="#111" stroke-width="0.45"/>
<rect x="74.92" y="450.50" width="13.98" height="14.75" fill="#5058af" stroke="#111" stroke-width="0.45"/>
<rect x="88.90" y="450.50" width="13.98" height="14.75" fill="#fdebd3" stroke="#111" stroke-width="0.45"/>
<rect x="102.88" y="450.50" width="13.98" height="14.75" fill="#3f4ea7" stroke="#111" stroke-width="0.45"/>
<rect x="116.86" y="450.50" width="13.98" height="14.75" fill="#5a5fb3" stroke="#111" stroke-width="0.45"/>
<rect x="130.84" y="450.50" width="13.98" height="14.75" fill="#3f4ea7" stroke="#111" stroke-width="0.45"/>
<rect x="144.82" y="450.50" width="13.98" height="14.75" fill="url(#hat)" stroke="#111" stroke-width="0.45"/>
<rect x="172.78" y="450.50" width="13.98" height="14.75" fill="#3f4ea7" stroke="#111" stroke-width="0.45"/>
<rect x="186.76" y="450.50" width="13.98" height="14.75" fill="#3f4ea7" stroke="#111" stroke-width="0.45"/>
<rect x="200.74" y="450.50" width="13.98" height="14.75" fill="#bcbbe2" stroke="#111" stroke-width="0.45"/>
<rect x="214.72" y="450.50" width="13.98" height="14.75" fill="url(#hat)" stroke="#111" stroke-width="0.45"/>
<rect x="228.70" y="450.50" width="13.98" height="14.75" fill="url(#hat)" stroke="#111" stroke-width="0.45"/>
<rect x="242.68" y="450.50" width="13.98" height="14.75" fill="url(#hat)" stroke="#111" stroke-width="0.45"/>
<rect x="256.66" y="450.50" width="13.98" height="14.75" fill="#3f4ea7" stroke="#111" stroke-width="0.45"/>
<rect x="19.00" y="465.25" width="13.98" height="14.75" fill="#3d4ba5" stroke="#111" stroke-width="0.45"/>
<rect x="32.98" y="465.25" width="13.98" height="14.75" fill="url(#hat)" stroke="#111" stroke-width="0.45"/>
<rect x="60.94" y="465.25" width="13.98" height="14.75" fill="#7478c0" stroke="#111" stroke-width="0.45"/>
<rect x="74.92" y="465.25" width="13.98" height="14.75" fill="url(#hat)" stroke="#111" stroke-width="0.45"/>
<rect x="88.90" y="465.25" width="13.98" height="14.75" fill="url(#hat)" stroke="#111" stroke-width="0.45"/>
<rect x="102.88" y="465.25" width="13.98" height="14.75" fill="url(#hat)" stroke="#111" stroke-width="0.45"/>
<rect x="116.86" y="465.25" width="13.98" height="14.75" fill="url(#hat)" stroke="#111" stroke-width="0.45"/>
<rect x="130.84" y="465.25" width="13.98" height="14.75" fill="#3f4ea7" stroke="#111" stroke-width="0.45"/>
<rect x="144.82" y="465.25" width="13.98" height="14.75" fill="#fbd99c" stroke="#111" stroke-width="0.45"/>
<rect x="172.78" y="465.25" width="13.98" height="14.75" fill="#4550a9" stroke="#111" stroke-width="0.45"/>
<rect x="186.76" y="465.25" width="13.98" height="14.75" fill="#4550a9" stroke="#111" stroke-width="0.45"/>
<rect x="200.74" y="465.25" width="13.98" height="14.75" fill="#5058af" stroke="#111" stroke-width="0.45"/>
<rect x="214.72" y="465.25" width="13.98" height="14.75" fill="#4a55ad" stroke="#111" stroke-width="0.45"/>
<rect x="228.70" y="465.25" width="13.98" height="14.75" fill="#3f4ea7" stroke="#111" stroke-width="0.45"/>
<rect x="242.68" y="465.25" width="13.98" height="14.75" fill="#fbcf86" stroke="#111" stroke-width="0.45"/>
<rect x="256.66" y="465.25" width="13.98" height="14.75" fill="#3f4ea7" stroke="#111" stroke-width="0.45"/>
<rect x="19.00" y="480.00" width="13.98" height="14.75" fill="url(#hat)" stroke="#111" stroke-width="0.45"/>
<rect x="32.98" y="480.00" width="13.98" height="14.75" fill="#5a5fb3" stroke="#111" stroke-width="0.45"/>
<rect x="60.94" y="480.00" width="13.98" height="14.75" fill="#7478c0" stroke="#111" stroke-width="0.45"/>
<rect x="74.92" y="480.00" width="13.98" height="14.75" fill="#a5a3d8" stroke="#111" stroke-width="0.45"/>
<rect x="88.90" y="480.00" width="13.98" height="14.75" fill="#5a5fb3" stroke="#111" stroke-width="0.45"/>
<rect x="102.88" y="480.00" width="13.98" height="14.75" fill="#f5a623" stroke="#111" stroke-width="0.45"/>
<rect x="116.86" y="480.00" width="13.98" height="14.75" fill="#7478c0" stroke="#111" stroke-width="0.45"/>
<rect x="130.84" y="480.00" width="13.98" height="14.75" fill="url(#hat)" stroke="#111" stroke-width="0.45"/>
<rect x="144.82" y="480.00" width="13.98" height="14.75" fill="#4a55ad" stroke="#111" stroke-width="0.45"/>
<rect x="172.78" y="480.00" width="13.98" height="14.75" fill="url(#hat)" stroke="#111" stroke-width="0.45"/>
<rect x="186.76" y="480.00" width="13.98" height="14.75" fill="url(#hat)" stroke="#111" stroke-width="0.45"/>
<rect x="200.74" y="480.00" width="13.98" height="14.75" fill="#4a55ad" stroke="#111" stroke-width="0.45"/>
<rect x="214.72" y="480.00" width="13.98" height="14.75" fill="#3f4ea7" stroke="#111" stroke-width="0.45"/>
<rect x="228.70" y="480.00" width="13.98" height="14.75" fill="#3f4ea7" stroke="#111" stroke-width="0.45"/>
<rect x="242.68" y="480.00" width="13.98" height="14.75" fill="#5058af" stroke="#111" stroke-width="0.45"/>
<rect x="256.66" y="480.00" width="13.98" height="14.75" fill="url(#hat)" stroke="#111" stroke-width="0.45"/>
<rect x="19.00" y="494.75" width="13.98" height="14.75" fill="#a5a3d8" stroke="#111" stroke-width="0.45"/>
<rect x="32.98" y="494.75" width="13.98" height="14.75" fill="#3f4ea7" stroke="#111" stroke-width="0.45"/>
<rect x="60.94" y="494.75" width="13.98" height="14.75" fill="#3f4ea7" stroke="#111" stroke-width="0.45"/>
<rect x="74.92" y="494.75" width="13.98" height="14.75" fill="#3f4ea7" stroke="#111" stroke-width="0.45"/>
<rect x="88.90" y="494.75" width="13.98" height="14.75" fill="#4048a5" stroke="#111" stroke-width="0.45"/>
<rect x="102.88" y="494.75" width="13.98" height="14.75" fill="#4550a9" stroke="#111" stroke-width="0.45"/>
<rect x="116.86" y="494.75" width="13.98" height="14.75" fill="#4a55ad" stroke="#111" stroke-width="0.45"/>
<rect x="130.84" y="494.75" width="13.98" height="14.75" fill="#a5a3d8" stroke="#111" stroke-width="0.45"/>
<rect x="144.82" y="494.75" width="13.98" height="14.75" fill="#5058af" stroke="#111" stroke-width="0.45"/>
<rect x="172.78" y="494.75" width="13.98" height="14.75" fill="#3f4ea7" stroke="#111" stroke-width="0.45"/>
<rect x="186.76" y="494.75" width="13.98" height="14.75" fill="#3d45a3" stroke="#111" stroke-width="0.45"/>
<rect x="200.74" y="494.75" width="13.98" height="14.75" fill="url(#hat)" stroke="#111" stroke-width="0.45"/>
<rect x="214.72" y="494.75" width="13.98" height="14.75" fill="#3f4ea7" stroke="#111" stroke-width="0.45"/>
<rect x="228.70" y="494.75" width="13.98" height="14.75" fill="#4048a5" stroke="#111" stroke-width="0.45"/>
<rect x="242.68" y="494.75" width="13.98" height="14.75" fill="#3f4ea7" stroke="#111" stroke-width="0.45"/>
<rect x="256.66" y="494.75" width="13.98" height="14.75" fill="#3f4ea7" stroke="#111" stroke-width="0.45"/>
<rect x="173.53" y="451.25" width="12.48" height="13.25" fill="none" stroke="#2ca030" stroke-width="1.3"/>
<rect x="187.51" y="451.25" width="12.48" height="13.25" fill="none" stroke="#2ca030" stroke-width="1.3"/>
<rect x="257.41" y="451.25" width="12.48" height="13.25" fill="none" stroke="#2ca030" stroke-width="1.3"/>
<rect x="173.53" y="466.00" width="12.48" height="13.25" fill="none" stroke="#2ca030" stroke-width="1.3"/>
<rect x="187.51" y="466.00" width="12.48" height="13.25" fill="none" stroke="#2ca030" stroke-width="1.3"/>
<rect x="229.45" y="466.00" width="12.48" height="13.25" fill="none" stroke="#2ca030" stroke-width="1.3"/>
<rect x="243.43" y="466.00" width="12.48" height="13.25" fill="none" stroke="#2ca030" stroke-width="1.3"/>
<rect x="257.41" y="466.00" width="12.48" height="13.25" fill="none" stroke="#2ca030" stroke-width="1.3"/>
<rect x="145.57" y="480.75" width="12.48" height="13.25" fill="none" stroke="#2ca030" stroke-width="1.3"/>
<rect x="201.49" y="480.75" width="12.48" height="13.25" fill="none" stroke="#2ca030" stroke-width="1.3"/>
<rect x="215.47" y="480.75" width="12.48" height="13.25" fill="none" stroke="#2ca030" stroke-width="1.3"/>
<rect x="229.45" y="480.75" width="12.48" height="13.25" fill="none" stroke="#2ca030" stroke-width="1.3"/>
<rect x="61.69" y="495.50" width="12.48" height="13.25" fill="none" stroke="#2ca030" stroke-width="1.3"/>
<rect x="173.53" y="495.50" width="12.48" height="13.25" fill="none" stroke="#2ca030" stroke-width="1.3"/>
<rect x="215.47" y="495.50" width="12.48" height="13.25" fill="none" stroke="#2ca030" stroke-width="1.3"/>
<rect x="229.45" y="495.50" width="12.48" height="13.25" fill="none" stroke="#2ca030" stroke-width="1.3"/>
<rect x="257.41" y="495.50" width="12.48" height="13.25" fill="none" stroke="#2ca030" stroke-width="1.3"/>
<rect x="46.96" y="450.50" width="13.98" height="59.00" fill="#fff" stroke="#111" stroke-width="0.45"/>
<rect x="158.80" y="450.50" width="13.98" height="59.00" fill="#fff" stroke="#111" stroke-width="0.45"/>
<rect x="19.00" y="450.50" width="251.64" height="59.00" fill="none" stroke="#111" stroke-width="0.7"/>
<text x="25.99" y="446.80" font-size="6.90" text-anchor="middle" fill="#161616">8</text>
<text x="39.97" y="446.80" font-size="6.90" text-anchor="middle" fill="#161616">9</text>
<text x="67.93" y="446.80" font-size="6.90" text-anchor="middle" fill="#161616">14</text>
<text x="81.91" y="446.80" font-size="6.90" text-anchor="middle" fill="#161616">15</text>
<text x="95.89" y="446.80" font-size="6.90" text-anchor="middle" fill="#161616">16</text>
<text x="109.87" y="446.80" font-size="6.90" text-anchor="middle" fill="#161616">17</text>
<text x="123.85" y="446.80" font-size="6.90" text-anchor="middle" fill="#161616">18</text>
<text x="137.83" y="446.80" font-size="6.90" text-anchor="middle" fill="#161616">19</text>
<text x="151.81" y="446.80" font-size="6.90" text-anchor="middle" fill="#161616">20</text>
<text x="179.77" y="446.80" font-size="6.90" text-anchor="middle" fill="#161616">53</text>
<text x="193.75" y="446.80" font-size="6.90" text-anchor="middle" fill="#161616">54</text>
<text x="207.73" y="446.80" font-size="6.90" text-anchor="middle" fill="#161616">55</text>
<text x="221.71" y="446.80" font-size="6.90" text-anchor="middle" fill="#161616">56</text>
<text x="235.69" y="446.80" font-size="6.90" text-anchor="middle" fill="#161616">57</text>
<text x="249.67" y="446.80" font-size="6.90" text-anchor="middle" fill="#161616">58</text>
<text x="263.65" y="446.80" font-size="6.90" text-anchor="middle" fill="#161616">59</text>
<text x="13.00" y="459.57" font-size="6.90" text-anchor="middle" fill="#161616">A</text>
<text x="13.00" y="474.32" font-size="6.90" text-anchor="middle" fill="#161616">G</text>
<text x="13.00" y="489.07" font-size="6.90" text-anchor="middle" fill="#161616">T</text>
<text x="13.00" y="503.82" font-size="6.90" text-anchor="middle" fill="#161616">C</text>
<rect x="19.00" y="514.40" width="251.64" height="7.20" fill="url(#gd)" stroke="#111" stroke-width="0.7"/>
<path d="M21.20 521.60V523.60" stroke="#222" stroke-width="0.6"/>
<text x="21.20" y="533.40" font-size="6.90" text-anchor="middle" fill="#161616">0</text>
<path d="M82.90 521.60V523.60" stroke="#222" stroke-width="0.6"/>
<text x="82.90" y="533.40" font-size="6.90" text-anchor="middle" fill="#161616">25</text>
<path d="M144.60 521.60V523.60" stroke="#222" stroke-width="0.6"/>
<text x="144.60" y="533.40" font-size="6.90" text-anchor="middle" fill="#161616">50</text>
<path d="M206.30 521.60V523.60" stroke="#222" stroke-width="0.6"/>
<text x="206.30" y="533.40" font-size="6.90" text-anchor="middle" fill="#161616">75</text>
<path d="M268.00 521.60V523.60" stroke="#222" stroke-width="0.6"/>
<text x="268.00" y="533.40" font-size="6.90" text-anchor="middle" fill="#161616">100</text>
<text x="144.90" y="546.40" font-size="7.59" text-anchor="middle" fill="#161616">Estimated 3′ processing efficiency (%)</text>
<text x="0.60" y="567.20" font-size="12.00" text-anchor="start" fill="#000" font-weight="bold">f</text>
<text x="110.60" y="571.70" font-size="7.70" fill="#222">Location in tRNA<tspan dy="-2.77" font-size="4.77">Pro</tspan></text>
<rect x="16.50" y="587.60" width="251.10" height="58.48" fill="#fff"/>
<rect x="16.50" y="587.60" width="13.95" height="14.62" fill="#f8f8f8" stroke="#111" stroke-width="0.45"/>
<rect x="30.45" y="587.60" width="13.95" height="14.62" fill="#ffffff" stroke="#111" stroke-width="0.45"/>
<rect x="58.35" y="587.60" width="13.95" height="14.62" fill="url(#hat)" stroke="#111" stroke-width="0.45"/>
<rect x="72.30" y="587.60" width="13.95" height="14.62" fill="#3a4ca6" stroke="#111" stroke-width="0.45"/>
<rect x="86.25" y="587.60" width="13.95" height="14.62" fill="#f8f8f8" stroke="#111" stroke-width="0.45"/>
<rect x="100.20" y="587.60" width="13.95" height="14.62" fill="#fde4b8" stroke="#111" stroke-width="0.45"/>
<rect x="114.15" y="587.60" width="13.95" height="14.62" fill="#6468b8" stroke="#111" stroke-width="0.45"/>
<rect x="128.10" y="587.60" width="13.95" height="14.62" fill="#5a5fb3" stroke="#111" stroke-width="0.45"/>
<rect x="142.05" y="587.60" width="13.95" height="14.62" fill="url(#hat)" stroke="#111" stroke-width="0.45"/>
<rect x="169.95" y="587.60" width="13.95" height="14.62" fill="#6468b8" stroke="#111" stroke-width="0.45"/>
<rect x="183.90" y="587.60" width="13.95" height="14.62" fill="#ffffff" stroke="#111" stroke-width="0.45"/>
<rect x="197.85" y="587.60" width="13.95" height="14.62" fill="#c5c3e6" stroke="#111" stroke-width="0.45"/>
<rect x="211.80" y="587.60" width="13.95" height="14.62" fill="url(#hat)" stroke="#111" stroke-width="0.45"/>
<rect x="225.75" y="587.60" width="13.95" height="14.62" fill="url(#hat)" stroke="#111" stroke-width="0.45"/>
<rect x="239.70" y="587.60" width="13.95" height="14.62" fill="url(#hat)" stroke="#111" stroke-width="0.45"/>
<rect x="253.65" y="587.60" width="13.95" height="14.62" fill="#a5a3d8" stroke="#111" stroke-width="0.45"/>
<rect x="16.50" y="602.22" width="13.95" height="14.62" fill="#a5a3d8" stroke="#111" stroke-width="0.45"/>
<rect x="30.45" y="602.22" width="13.95" height="14.62" fill="url(#hat)" stroke="#111" stroke-width="0.45"/>
<rect x="58.35" y="602.22" width="13.95" height="14.62" fill="#ffffff" stroke="#111" stroke-width="0.45"/>
<rect x="72.30" y="602.22" width="13.95" height="14.62" fill="url(#hat)" stroke="#111" stroke-width="0.45"/>
<rect x="86.25" y="602.22" width="13.95" height="14.62" fill="url(#hat)" stroke="#111" stroke-width="0.45"/>
<rect x="100.20" y="602.22" width="13.95" height="14.62" fill="url(#hat)" stroke="#111" stroke-width="0.45"/>
<rect x="114.15" y="602.22" width="13.95" height="14.62" fill="url(#hat)" stroke="#111" stroke-width="0.45"/>
<rect x="128.10" y="602.22" width="13.95" height="14.62" fill="#fdf0d5" stroke="#111" stroke-width="0.45"/>
<rect x="142.05" y="602.22" width="13.95" height="14.62" fill="#ffffff" stroke="#111" stroke-width="0.45"/>
<rect x="169.95" y="602.22" width="13.95" height="14.62" fill="#3a4ca6" stroke="#111" stroke-width="0.45"/>
<rect x="183.90" y="602.22" width="13.95" height="14.62" fill="#ffffff" stroke="#111" stroke-width="0.45"/>
<rect x="197.85" y="602.22" width="13.95" height="14.62" fill="#3a4ca6" stroke="#111" stroke-width="0.45"/>
<rect x="211.80" y="602.22" width="13.95" height="14.62" fill="#c5c3e6" stroke="#111" stroke-width="0.45"/>
<rect x="225.75" y="602.22" width="13.95" height="14.62" fill="#3a4ca6" stroke="#111" stroke-width="0.45"/>
<rect x="239.70" y="602.22" width="13.95" height="14.62" fill="#b5b3de" stroke="#111" stroke-width="0.45"/>
<rect x="253.65" y="602.22" width="13.95" height="14.62" fill="#ffffff" stroke="#111" stroke-width="0.45"/>
<rect x="16.50" y="616.84" width="13.95" height="14.62" fill="url(#hat)" stroke="#111" stroke-width="0.45"/>
<rect x="30.45" y="616.84" width="13.95" height="14.62" fill="#4048a5" stroke="#111" stroke-width="0.45"/>
<rect x="58.35" y="616.84" width="13.95" height="14.62" fill="#a5a3d8" stroke="#111" stroke-width="0.45"/>
<rect x="72.30" y="616.84" width="13.95" height="14.62" fill="#5058af" stroke="#111" stroke-width="0.45"/>
<rect x="86.25" y="616.84" width="13.95" height="14.62" fill="#ffffff" stroke="#111" stroke-width="0.45"/>
<rect x="100.20" y="616.84" width="13.95" height="14.62" fill="#4a55ad" stroke="#111" stroke-width="0.45"/>
<rect x="114.15" y="616.84" width="13.95" height="14.62" fill="#f8f8f8" stroke="#111" stroke-width="0.45"/>
<rect x="128.10" y="616.84" width="13.95" height="14.62" fill="url(#hat)" stroke="#111" stroke-width="0.45"/>
<rect x="142.05" y="616.84" width="13.95" height="14.62" fill="#fde6bd" stroke="#111" stroke-width="0.45"/>
<rect x="169.95" y="616.84" width="13.95" height="14.62" fill="url(#hat)" stroke="#111" stroke-width="0.45"/>
<rect x="183.90" y="616.84" width="13.95" height="14.62" fill="url(#hat)" stroke="#111" stroke-width="0.45"/>
<rect x="197.85" y="616.84" width="13.95" height="14.62" fill="#a5a3d8" stroke="#111" stroke-width="0.45"/>
<rect x="211.80" y="616.84" width="13.95" height="14.62" fill="#f8f8f8" stroke="#111" stroke-width="0.45"/>
<rect x="225.75" y="616.84" width="13.95" height="14.62" fill="#4a55ad" stroke="#111" stroke-width="0.45"/>
<rect x="239.70" y="616.84" width="13.95" height="14.62" fill="#f8f8f8" stroke="#111" stroke-width="0.45"/>
<rect x="253.65" y="616.84" width="13.95" height="14.62" fill="url(#hat)" stroke="#111" stroke-width="0.45"/>
<rect x="16.50" y="631.46" width="13.95" height="14.62" fill="#fbd594" stroke="#111" stroke-width="0.45"/>
<rect x="30.45" y="631.46" width="13.95" height="14.62" fill="#000000" stroke="#111" stroke-width="0.45"/>
<rect x="58.35" y="631.46" width="13.95" height="14.62" fill="#6468b8" stroke="#111" stroke-width="0.45"/>
<rect x="72.30" y="631.46" width="13.95" height="14.62" fill="#000000" stroke="#111" stroke-width="0.45"/>
<rect x="86.25" y="631.46" width="13.95" height="14.62" fill="#c5c3e6" stroke="#111" stroke-width="0.45"/>
<rect x="100.20" y="631.46" width="13.95" height="14.62" fill="#4a55ad" stroke="#111" stroke-width="0.45"/>
<rect x="114.15" y="631.46" width="13.95" height="14.62" fill="#b5b3de" stroke="#111" stroke-width="0.45"/>
<rect x="128.10" y="631.46" width="13.95" height="14.62" fill="#fbc876" stroke="#111" stroke-width="0.45"/>
<rect x="142.05" y="631.46" width="13.95" height="14.62" fill="#fbd594" stroke="#111" stroke-width="0.45"/>
<rect x="169.95" y="631.46" width="13.95" height="14.62" fill="#ffffff" stroke="#111" stroke-width="0.45"/>
<rect x="183.90" y="631.46" width="13.95" height="14.62" fill="#fbd08a" stroke="#111" stroke-width="0.45"/>
<rect x="197.85" y="631.46" width="13.95" height="14.62" fill="url(#hat)" stroke="#111" stroke-width="0.45"/>
<rect x="211.80" y="631.46" width="13.95" height="14.62" fill="#fbd594" stroke="#111" stroke-width="0.45"/>
<rect x="225.75" y="631.46" width="13.95" height="14.62" fill="#6468b8" stroke="#111" stroke-width="0.45"/>
<rect x="239.70" y="631.46" width="13.95" height="14.62" fill="#f8f8f8" stroke="#111" stroke-width="0.45"/>
<rect x="253.65" y="631.46" width="13.95" height="14.62" fill="#3f4ea7" stroke="#111" stroke-width="0.45"/>
<rect x="44.40" y="587.60" width="13.95" height="58.48" fill="#fff" stroke="#111" stroke-width="0.45"/>
<rect x="156.00" y="587.60" width="13.95" height="58.48" fill="#fff" stroke="#111" stroke-width="0.45"/>
<rect x="16.50" y="587.60" width="251.10" height="58.48" fill="none" stroke="#111" stroke-width="0.7"/>
<text x="21.88" y="583.90" font-size="6.90" text-anchor="middle" fill="#161616">8</text>
<text x="35.82" y="583.90" font-size="6.90" text-anchor="middle" fill="#161616">9</text>
<text x="65.32" y="583.90" font-size="6.90" text-anchor="middle" fill="#161616">14</text>
<text x="79.28" y="583.90" font-size="6.90" text-anchor="middle" fill="#161616">15</text>
<text x="93.22" y="583.90" font-size="6.90" text-anchor="middle" fill="#161616">16</text>
<text x="107.17" y="583.90" font-size="6.90" text-anchor="middle" fill="#161616">17</text>
<text x="121.12" y="583.90" font-size="6.90" text-anchor="middle" fill="#161616">18</text>
<text x="136.07" y="583.90" font-size="6.90" text-anchor="middle" fill="#161616">19</text>
<text x="150.03" y="583.90" font-size="6.90" text-anchor="middle" fill="#161616">20</text>
<text x="176.92" y="583.90" font-size="6.90" text-anchor="middle" fill="#161616">53</text>
<text x="190.88" y="583.90" font-size="6.90" text-anchor="middle" fill="#161616">54</text>
<text x="204.82" y="583.90" font-size="6.90" text-anchor="middle" fill="#161616">55</text>
<text x="218.77" y="583.90" font-size="6.90" text-anchor="middle" fill="#161616">56</text>
<text x="232.72" y="583.90" font-size="6.90" text-anchor="middle" fill="#161616">57</text>
<text x="246.67" y="583.90" font-size="6.90" text-anchor="middle" fill="#161616">58</text>
<text x="260.62" y="583.90" font-size="6.90" text-anchor="middle" fill="#161616">59</text>
<text x="10.40" y="596.31" font-size="6.90" text-anchor="middle" fill="#161616">A</text>
<text x="10.40" y="610.93" font-size="6.90" text-anchor="middle" fill="#161616">G</text>
<text x="10.40" y="625.55" font-size="6.90" text-anchor="middle" fill="#161616">T</text>
<text x="10.40" y="640.17" font-size="6.90" text-anchor="middle" fill="#161616">C</text>
<rect x="16.50" y="651.00" width="251.10" height="7.30" fill="url(#gf)" stroke="#111" stroke-width="0.7"/>
<path d="M18.90 658.30V660.30" stroke="#222" stroke-width="0.6"/>
<text x="18.90" y="670.10" font-size="6.90" text-anchor="middle" fill="#161616">0</text>
<path d="M80.50 658.30V660.30" stroke="#222" stroke-width="0.6"/>
<text x="80.50" y="670.10" font-size="6.90" text-anchor="middle" fill="#161616">25</text>
<path d="M142.10 658.30V660.30" stroke="#222" stroke-width="0.6"/>
<text x="142.10" y="670.10" font-size="6.90" text-anchor="middle" fill="#161616">50</text>
<path d="M203.70 658.30V660.30" stroke="#222" stroke-width="0.6"/>
<text x="203.70" y="670.10" font-size="6.90" text-anchor="middle" fill="#161616">75</text>
<path d="M265.30 658.30V660.30" stroke="#222" stroke-width="0.6"/>
<text x="265.30" y="670.10" font-size="6.90" text-anchor="middle" fill="#161616">100</text>
<text x="144.55" y="682.90" font-size="7.57" text-anchor="middle" fill="#161616">Estimated 5′ processing efficiency (%)</text>
<text x="288.80" y="282.00" font-size="12.00" text-anchor="start" fill="#000" font-weight="bold">c</text>
<text x="373.10" y="293.00" font-size="7.53" text-anchor="middle" fill="#161616">Positional effect on promoter activity</text>
<path d="M325.75 318.20 L325.75 322.72 L325.75 327.24 L325.75 331.76 L325.75 336.28 L325.75 340.80 L325.75 345.32 L321.20 347.20 L318.15 350.55 L316.80 355.30 L311.70 355.30 L306.70 355.30 L303.90 351.70 L299.40 350.10 L294.50 350.60 L290.70 353.90 L289.10 358.10 L290.70 362.30 L294.50 365.20 L299.40 365.70 L303.90 363.80 L306.70 360.00 L311.70 360.00 L316.80 360.00 L321.40 364.20 L319.90 368.60 L318.50 373.00 L317.30 377.30 L315.80 381.70 L314.30 385.70 L310.20 387.70 L307.80 391.30 L309.10 395.90 L313.30 398.70 L317.90 398.70 L321.50 395.50 L322.40 390.60 L319.20 387.10 L320.70 382.80 L321.90 378.60 L323.30 374.20 L324.60 369.80 L326.10 365.60 L330.50 364.90 L335.00 363.00 L338.30 359.40 L339.40 355.00 L337.70 350.60 L342.40 349.20 L347.10 347.70 L351.90 346.50 L356.50 345.10 L360.70 347.20 L365.50 347.00 L369.30 343.40 L369.30 339.00 L365.80 335.30 L361.40 334.30 L358.70 335.80 L354.90 340.90 L350.20 342.10 L345.50 343.60 L340.60 345.10 L336.00 346.50 L330.60 345.32 L330.60 340.80 L330.60 336.28 L330.60 331.76 L330.60 327.24 L330.60 322.72 L330.60 318.20 L332.30 314.30" fill="none" stroke="#000" stroke-width="0.35"/>
<path d="M325.75 318.20L330.60 318.20M325.75 322.72L330.60 322.72M325.75 327.24L330.60 327.24M325.75 331.76L330.60 331.76M325.75 336.28L330.60 336.28M325.75 340.80L330.60 340.80M325.75 345.32L330.60 345.32M316.80 355.30L316.80 360.00M311.70 355.30L311.70 360.00M306.70 355.30L306.70 360.00M321.40 364.20L326.10 365.60M319.90 368.60L324.60 369.80M318.50 373.00L323.30 374.20M317.30 377.30L321.90 378.60M315.80 381.70L320.70 382.80M314.30 385.70L319.20 387.10M337.70 350.60L336.00 346.50M342.40 349.20L340.60 345.10M347.10 347.70L345.50 343.60M351.90 346.50L350.20 342.10M356.50 345.10L354.90 340.90" fill="none" stroke="#000" stroke-width="0.35"/>
<circle cx="325.75" cy="318.20" r="1.62" fill="#000"/>
<circle cx="325.75" cy="322.72" r="1.62" fill="#000"/>
<circle cx="325.75" cy="327.24" r="1.62" fill="#000"/>
<circle cx="325.75" cy="331.76" r="1.62" fill="#000"/>
<circle cx="325.75" cy="336.28" r="1.62" fill="#000"/>
<circle cx="325.75" cy="340.80" r="1.62" fill="#000"/>
<circle cx="325.75" cy="345.32" r="1.62" fill="#000"/>
<circle cx="321.20" cy="347.20" r="1.62" fill="#4a45a8"/>
<circle cx="318.15" cy="350.55" r="1.62" fill="#6a1f8c"/>
<circle cx="316.80" cy="355.30" r="1.62" fill="#000"/>
<circle cx="311.70" cy="355.30" r="1.62" fill="#000"/>
<circle cx="306.70" cy="355.30" r="1.62" fill="#000"/>
<circle cx="303.90" cy="351.70" r="1.62" fill="#000"/>
<circle cx="299.40" cy="350.10" r="1.62" fill="#3a55b0"/>
<circle cx="294.50" cy="350.60" r="1.62" fill="#4a3aa0"/>
<circle cx="290.70" cy="353.90" r="1.62" fill="#9a98d5"/>
<circle cx="289.10" cy="358.10" r="1.62" fill="#4a3aa0"/>
<circle cx="290.70" cy="362.30" r="1.62" fill="#4a3aa0"/>
<circle cx="294.50" cy="365.20" r="1.62" fill="#3a55b0"/>
<circle cx="299.40" cy="365.70" r="1.62" fill="#4a3aa0"/>
<circle cx="303.90" cy="363.80" r="1.62" fill="#000"/>
<circle cx="306.70" cy="360.00" r="1.62" fill="#000"/>
<circle cx="311.70" cy="360.00" r="1.62" fill="#000"/>
<circle cx="316.80" cy="360.00" r="1.62" fill="#000"/>
<circle cx="321.40" cy="364.20" r="1.62" fill="#000"/>
<circle cx="319.90" cy="368.60" r="1.62" fill="#000"/>
<circle cx="318.50" cy="373.00" r="1.62" fill="#000"/>
<circle cx="317.30" cy="377.30" r="1.62" fill="#000"/>
<circle cx="315.80" cy="381.70" r="1.62" fill="#000"/>
<circle cx="314.30" cy="385.70" r="1.62" fill="#000"/>
<circle cx="310.20" cy="387.70" r="1.62" fill="#000"/>
<circle cx="307.80" cy="391.30" r="1.62" fill="#000"/>
<circle cx="309.10" cy="395.90" r="1.62" fill="#000"/>
<circle cx="313.30" cy="398.70" r="1.62" fill="#000"/>
<circle cx="317.90" cy="398.70" r="1.62" fill="#000"/>
<circle cx="321.50" cy="395.50" r="1.62" fill="#000"/>
<circle cx="322.40" cy="390.60" r="1.62" fill="#000"/>
<circle cx="319.20" cy="387.10" r="1.62" fill="#000"/>
<circle cx="320.70" cy="382.80" r="1.62" fill="#000"/>
<circle cx="321.90" cy="378.60" r="1.62" fill="#000"/>
<circle cx="323.30" cy="374.20" r="1.62" fill="#000"/>
<circle cx="324.60" cy="369.80" r="1.62" fill="#000"/>
<circle cx="326.10" cy="365.60" r="1.62" fill="#000"/>
<circle cx="330.50" cy="364.90" r="1.62" fill="#000"/>
<circle cx="335.00" cy="363.00" r="1.62" fill="#000"/>
<circle cx="338.30" cy="359.40" r="1.62" fill="#000"/>
<circle cx="339.40" cy="355.00" r="1.62" fill="#000"/>
<circle cx="337.70" cy="350.60" r="1.62" fill="#000"/>
<circle cx="342.40" cy="349.20" r="1.62" fill="#000"/>
<circle cx="347.10" cy="347.70" r="1.62" fill="#000"/>
<circle cx="351.90" cy="346.50" r="1.62" fill="#000"/>
<circle cx="356.50" cy="345.10" r="1.62" fill="#000"/>
<circle cx="360.70" cy="347.20" r="1.62" fill="#dcdcf2"/>
<circle cx="365.50" cy="347.00" r="1.62" fill="#3a55b0"/>
<circle cx="369.30" cy="343.40" r="1.62" fill="#3a55b0"/>
<circle cx="369.30" cy="339.00" r="1.62" fill="#3a55b0"/>
<circle cx="365.80" cy="335.30" r="1.62" fill="#f9c56a"/>
<circle cx="361.40" cy="334.30" r="1.62" fill="#e4e4f4"/>
<circle cx="358.70" cy="335.80" r="1.62" fill="#f2f2fa"/>
<circle cx="354.90" cy="340.90" r="1.62" fill="#000"/>
<circle cx="350.20" cy="342.10" r="1.62" fill="#000"/>
<circle cx="345.50" cy="343.60" r="1.62" fill="#000"/>
<circle cx="340.60" cy="345.10" r="1.62" fill="#000"/>
<circle cx="336.00" cy="346.50" r="1.62" fill="#000"/>
<circle cx="330.60" cy="345.32" r="1.62" fill="#000"/>
<circle cx="330.60" cy="340.80" r="1.62" fill="#000"/>
<circle cx="330.60" cy="336.28" r="1.62" fill="#000"/>
<circle cx="330.60" cy="331.76" r="1.62" fill="#000"/>
<circle cx="330.60" cy="327.24" r="1.62" fill="#000"/>
<circle cx="330.60" cy="322.72" r="1.62" fill="#000"/>
<circle cx="330.60" cy="318.20" r="1.62" fill="#000"/>
<circle cx="332.30" cy="314.30" r="1.62" fill="#000"/>
<text x="336.30" y="324.55" font-size="4.60" text-anchor="middle" fill="#222">70</text>
<text x="351.40" y="338.45" font-size="4.60" text-anchor="middle" fill="#222">60</text>
<text x="348.50" y="354.05" font-size="4.60" text-anchor="middle" fill="#222">50</text>
<text x="327.50" y="381.25" font-size="4.60" text-anchor="middle" fill="#222">40</text>
<text x="309.40" y="383.65" font-size="4.60" text-anchor="middle" fill="#222">30</text>
<text x="300.00" y="372.75" font-size="4.60" text-anchor="middle" fill="#222">20</text>
<text x="312.90" y="352.85" font-size="4.60" text-anchor="middle" fill="#222">10</text>
<text x="330.20" y="308.30" font-size="7.52" text-anchor="middle" fill="#161616">Min.</text>
<text x="298.95" y="343.70" font-size="7.43" text-anchor="middle" fill="#161616">D-loop</text>
<text x="356.95" y="363.20" font-size="7.38" text-anchor="middle" fill="#161616">T-loop</text>
<path d="M419.80 318.20 L419.80 322.72 L419.80 327.24 L419.80 331.76 L419.80 336.28 L419.80 340.80 L419.80 345.32 L415.25 347.20 L412.20 350.55 L410.85 355.30 L405.75 355.30 L400.75 355.30 L397.95 351.70 L393.45 350.10 L388.55 350.60 L384.75 353.90 L383.15 358.10 L384.75 362.30 L388.55 365.20 L393.45 365.70 L397.95 363.80 L400.75 360.00 L405.75 360.00 L410.85 360.00 L415.45 364.20 L413.95 368.60 L412.55 373.00 L411.35 377.30 L409.85 381.70 L408.35 385.70 L404.25 387.70 L401.85 391.30 L403.15 395.90 L407.35 398.70 L411.95 398.70 L415.55 395.50 L416.45 390.60 L413.25 387.10 L414.75 382.80 L415.95 378.60 L417.35 374.20 L418.65 369.80 L420.15 365.60 L424.55 364.90 L429.05 363.00 L432.35 359.40 L433.45 355.00 L431.75 350.60 L436.45 349.20 L441.15 347.70 L445.95 346.50 L450.55 345.10 L454.75 347.20 L459.55 347.00 L463.35 343.40 L463.35 339.00 L459.85 335.30 L455.45 334.30 L452.75 335.80 L448.95 340.90 L444.25 342.10 L439.55 343.60 L434.65 345.10 L430.05 346.50 L424.65 345.32 L424.65 340.80 L424.65 336.28 L424.65 331.76 L424.65 327.24 L424.65 322.72 L424.65 318.20 L426.35 314.30" fill="none" stroke="#000" stroke-width="0.35"/>
<path d="M419.80 318.20L424.65 318.20M419.80 322.72L424.65 322.72M419.80 327.24L424.65 327.24M419.80 331.76L424.65 331.76M419.80 336.28L424.65 336.28M419.80 340.80L424.65 340.80M419.80 345.32L424.65 345.32M410.85 355.30L410.85 360.00M405.75 355.30L405.75 360.00M400.75 355.30L400.75 360.00M415.45 364.20L420.15 365.60M413.95 368.60L418.65 369.80M412.55 373.00L417.35 374.20M411.35 377.30L415.95 378.60M409.85 381.70L414.75 382.80M408.35 385.70L413.25 387.10M431.75 350.60L430.05 346.50M436.45 349.20L434.65 345.10M441.15 347.70L439.55 343.60M445.95 346.50L444.25 342.10M450.55 345.10L448.95 340.90" fill="none" stroke="#000" stroke-width="0.35"/>
<circle cx="419.80" cy="318.20" r="1.62" fill="#000"/>
<circle cx="419.80" cy="322.72" r="1.62" fill="#000"/>
<circle cx="419.80" cy="327.24" r="1.62" fill="#000"/>
<circle cx="419.80" cy="331.76" r="1.62" fill="#000"/>
<circle cx="419.80" cy="336.28" r="1.62" fill="#000"/>
<circle cx="419.80" cy="340.80" r="1.62" fill="#000"/>
<circle cx="419.80" cy="345.32" r="1.62" fill="#000"/>
<circle cx="415.25" cy="347.20" r="1.62" fill="#7a7cc8"/>
<circle cx="412.20" cy="350.55" r="1.62" fill="#d5d5ee"/>
<circle cx="410.85" cy="355.30" r="1.62" fill="#000"/>
<circle cx="405.75" cy="355.30" r="1.62" fill="#000"/>
<circle cx="400.75" cy="355.30" r="1.62" fill="#000"/>
<circle cx="397.95" cy="351.70" r="1.62" fill="#000"/>
<circle cx="393.45" cy="350.10" r="1.62" fill="#f9c56a"/>
<circle cx="388.55" cy="350.60" r="1.62" fill="#3a55b0"/>
<circle cx="384.75" cy="353.90" r="1.62" fill="#f4f4f4"/>
<circle cx="383.15" cy="358.10" r="1.62" fill="#3a4cb0"/>
<circle cx="384.75" cy="362.30" r="1.62" fill="#3a4cb0"/>
<circle cx="388.55" cy="365.20" r="1.62" fill="#4a5ab5"/>
<circle cx="393.45" cy="365.70" r="1.62" fill="#f5f5f5"/>
<circle cx="397.95" cy="363.80" r="1.62" fill="#000"/>
<circle cx="400.75" cy="360.00" r="1.62" fill="#000"/>
<circle cx="405.75" cy="360.00" r="1.62" fill="#000"/>
<circle cx="410.85" cy="360.00" r="1.62" fill="#000"/>
<circle cx="415.45" cy="364.20" r="1.62" fill="#000"/>
<circle cx="413.95" cy="368.60" r="1.62" fill="#000"/>
<circle cx="412.55" cy="373.00" r="1.62" fill="#000"/>
<circle cx="411.35" cy="377.30" r="1.62" fill="#000"/>
<circle cx="409.85" cy="381.70" r="1.62" fill="#000"/>
<circle cx="408.35" cy="385.70" r="1.62" fill="#000"/>
<circle cx="404.25" cy="387.70" r="1.62" fill="#000"/>
<circle cx="401.85" cy="391.30" r="1.62" fill="#000"/>
<circle cx="403.15" cy="395.90" r="1.62" fill="#000"/>
<circle cx="407.35" cy="398.70" r="1.62" fill="#000"/>
<circle cx="411.95" cy="398.70" r="1.62" fill="#000"/>
<circle cx="415.55" cy="395.50" r="1.62" fill="#000"/>
<circle cx="416.45" cy="390.60" r="1.62" fill="#000"/>
<circle cx="413.25" cy="387.10" r="1.62" fill="#000"/>
<circle cx="414.75" cy="382.80" r="1.62" fill="#000"/>
<circle cx="415.95" cy="378.60" r="1.62" fill="#000"/>
<circle cx="417.35" cy="374.20" r="1.62" fill="#000"/>
<circle cx="418.65" cy="369.80" r="1.62" fill="#000"/>
<circle cx="420.15" cy="365.60" r="1.62" fill="#000"/>
<circle cx="424.55" cy="364.90" r="1.62" fill="#000"/>
<circle cx="429.05" cy="363.00" r="1.62" fill="#000"/>
<circle cx="432.35" cy="359.40" r="1.62" fill="#000"/>
<circle cx="433.45" cy="355.00" r="1.62" fill="#000"/>
<circle cx="431.75" cy="350.60" r="1.62" fill="#000"/>
<circle cx="436.45" cy="349.20" r="1.62" fill="#000"/>
<circle cx="441.15" cy="347.70" r="1.62" fill="#000"/>
<circle cx="445.95" cy="346.50" r="1.62" fill="#000"/>
<circle cx="450.55" cy="345.10" r="1.62" fill="#000"/>
<circle cx="454.75" cy="347.20" r="1.62" fill="#f5a828"/>
<circle cx="459.55" cy="347.00" r="1.62" fill="#f4f4f4"/>
<circle cx="463.35" cy="343.40" r="1.62" fill="#5a5fb8"/>
<circle cx="463.35" cy="339.00" r="1.62" fill="#f7b544"/>
<circle cx="459.85" cy="335.30" r="1.62" fill="#e8601c"/>
<circle cx="455.45" cy="334.30" r="1.62" fill="#f4f4f4"/>
<circle cx="452.75" cy="335.80" r="1.62" fill="#f5a828"/>
<circle cx="448.95" cy="340.90" r="1.62" fill="#000"/>
<circle cx="444.25" cy="342.10" r="1.62" fill="#000"/>
<circle cx="439.55" cy="343.60" r="1.62" fill="#000"/>
<circle cx="434.65" cy="345.10" r="1.62" fill="#000"/>
<circle cx="430.05" cy="346.50" r="1.62" fill="#000"/>
<circle cx="424.65" cy="345.32" r="1.62" fill="#000"/>
<circle cx="424.65" cy="340.80" r="1.62" fill="#000"/>
<circle cx="424.65" cy="336.28" r="1.62" fill="#000"/>
<circle cx="424.65" cy="331.76" r="1.62" fill="#000"/>
<circle cx="424.65" cy="327.24" r="1.62" fill="#000"/>
<circle cx="424.65" cy="322.72" r="1.62" fill="#000"/>
<circle cx="424.65" cy="318.20" r="1.62" fill="#000"/>
<circle cx="426.35" cy="314.30" r="1.62" fill="#000"/>
<text x="430.35" y="324.55" font-size="4.60" text-anchor="middle" fill="#222">70</text>
<text x="445.45" y="338.45" font-size="4.60" text-anchor="middle" fill="#222">60</text>
<text x="442.55" y="354.05" font-size="4.60" text-anchor="middle" fill="#222">50</text>
<text x="421.55" y="381.25" font-size="4.60" text-anchor="middle" fill="#222">40</text>
<text x="403.45" y="383.65" font-size="4.60" text-anchor="middle" fill="#222">30</text>
<text x="394.05" y="372.75" font-size="4.60" text-anchor="middle" fill="#222">20</text>
<text x="406.95" y="352.85" font-size="4.60" text-anchor="middle" fill="#222">10</text>
<text x="424.90" y="308.30" font-size="7.11" text-anchor="middle" fill="#161616">Max.</text>
<text x="288.80" y="430.60" font-size="12.00" text-anchor="start" fill="#000" font-weight="bold">e</text>
<text x="372.10" y="431.70" font-size="7.58" text-anchor="middle" fill="#161616">Positional effect on 3′ processing</text>
<path d="M325.50 456.00 L325.50 460.52 L325.50 465.04 L325.50 469.56 L325.50 474.08 L325.50 478.60 L325.50 483.12 L320.95 485.00 L317.90 488.35 L316.55 493.10 L311.45 493.10 L306.45 493.10 L303.65 489.50 L299.15 487.90 L294.25 488.40 L290.45 491.70 L288.85 495.90 L290.45 500.10 L294.25 503.00 L299.15 503.50 L303.65 501.60 L306.45 497.80 L311.45 497.80 L316.55 497.80 L321.15 502.00 L319.65 506.40 L318.25 510.80 L317.05 515.10 L315.55 519.50 L314.05 523.50 L309.95 525.50 L307.55 529.10 L308.85 533.70 L313.05 536.50 L317.65 536.50 L321.25 533.30 L322.15 528.40 L318.95 524.90 L320.45 520.60 L321.65 516.40 L323.05 512.00 L324.35 507.60 L325.85 503.40 L330.25 502.70 L334.75 500.80 L338.05 497.20 L339.15 492.80 L337.45 488.40 L342.15 487.00 L346.85 485.50 L351.65 484.30 L356.25 482.90 L360.45 485.00 L365.25 484.80 L369.05 481.20 L369.05 476.80 L365.55 473.10 L361.15 472.10 L358.45 473.60 L354.65 478.70 L349.95 479.90 L345.25 481.40 L340.35 482.90 L335.75 484.30 L330.35 483.12 L330.35 478.60 L330.35 474.08 L330.35 469.56 L330.35 465.04 L330.35 460.52 L330.35 456.00 L332.05 452.10" fill="none" stroke="#000" stroke-width="0.35"/>
<path d="M325.50 456.00L330.35 456.00M325.50 460.52L330.35 460.52M325.50 465.04L330.35 465.04M325.50 469.56L330.35 469.56M325.50 474.08L330.35 474.08M325.50 478.60L330.35 478.60M325.50 483.12L330.35 483.12M316.55 493.10L316.55 497.80M311.45 493.10L311.45 497.80M306.45 493.10L306.45 497.80M321.15 502.00L325.85 503.40M319.65 506.40L324.35 507.60M318.25 510.80L323.05 512.00M317.05 515.10L321.65 516.40M315.55 519.50L320.45 520.60M314.05 523.50L318.95 524.90M337.45 488.40L335.75 484.30M342.15 487.00L340.35 482.90M346.85 485.50L345.25 481.40M351.65 484.30L349.95 479.90M356.25 482.90L354.65 478.70" fill="none" stroke="#000" stroke-width="0.35"/>
<circle cx="325.50" cy="456.00" r="1.62" fill="#000"/>
<circle cx="325.50" cy="460.52" r="1.62" fill="#000"/>
<circle cx="325.50" cy="465.04" r="1.62" fill="#000"/>
<circle cx="325.50" cy="469.56" r="1.62" fill="#000"/>
<circle cx="325.50" cy="474.08" r="1.62" fill="#000"/>
<circle cx="325.50" cy="478.60" r="1.62" fill="#000"/>
<circle cx="325.50" cy="483.12" r="1.62" fill="#000"/>
<circle cx="320.95" cy="485.00" r="1.62" fill="#3a55b0"/>
<circle cx="317.90" cy="488.35" r="1.62" fill="#3a55b0"/>
<circle cx="316.55" cy="493.10" r="1.62" fill="#000"/>
<circle cx="311.45" cy="493.10" r="1.62" fill="#000"/>
<circle cx="306.45" cy="493.10" r="1.62" fill="#000"/>
<circle cx="303.65" cy="489.50" r="1.62" fill="#000"/>
<circle cx="299.15" cy="487.90" r="1.62" fill="#3a55b0"/>
<circle cx="294.25" cy="488.40" r="1.62" fill="#3a55b0"/>
<circle cx="290.45" cy="491.70" r="1.62" fill="#3a55b0"/>
<circle cx="288.85" cy="495.90" r="1.62" fill="#3a55b0"/>
<circle cx="290.45" cy="500.10" r="1.62" fill="#3a55b0"/>
<circle cx="294.25" cy="503.00" r="1.62" fill="#3a55b0"/>
<circle cx="299.15" cy="503.50" r="1.62" fill="#3a55b0"/>
<circle cx="303.65" cy="501.60" r="1.62" fill="#000"/>
<circle cx="306.45" cy="497.80" r="1.62" fill="#000"/>
<circle cx="311.45" cy="497.80" r="1.62" fill="#000"/>
<circle cx="316.55" cy="497.80" r="1.62" fill="#000"/>
<circle cx="321.15" cy="502.00" r="1.62" fill="#000"/>
<circle cx="319.65" cy="506.40" r="1.62" fill="#000"/>
<circle cx="318.25" cy="510.80" r="1.62" fill="#000"/>
<circle cx="317.05" cy="515.10" r="1.62" fill="#000"/>
<circle cx="315.55" cy="519.50" r="1.62" fill="#000"/>
<circle cx="314.05" cy="523.50" r="1.62" fill="#000"/>
<circle cx="309.95" cy="525.50" r="1.62" fill="#000"/>
<circle cx="307.55" cy="529.10" r="1.62" fill="#000"/>
<circle cx="308.85" cy="533.70" r="1.62" fill="#000"/>
<circle cx="313.05" cy="536.50" r="1.62" fill="#000"/>
<circle cx="317.65" cy="536.50" r="1.62" fill="#000"/>
<circle cx="321.25" cy="533.30" r="1.62" fill="#000"/>
<circle cx="322.15" cy="528.40" r="1.62" fill="#000"/>
<circle cx="318.95" cy="524.90" r="1.62" fill="#000"/>
<circle cx="320.45" cy="520.60" r="1.62" fill="#000"/>
<circle cx="321.65" cy="516.40" r="1.62" fill="#000"/>
<circle cx="323.05" cy="512.00" r="1.62" fill="#000"/>
<circle cx="324.35" cy="507.60" r="1.62" fill="#000"/>
<circle cx="325.85" cy="503.40" r="1.62" fill="#000"/>
<circle cx="330.25" cy="502.70" r="1.62" fill="#000"/>
<circle cx="334.75" cy="500.80" r="1.62" fill="#000"/>
<circle cx="338.05" cy="497.20" r="1.62" fill="#000"/>
<circle cx="339.15" cy="492.80" r="1.62" fill="#000"/>
<circle cx="337.45" cy="488.40" r="1.62" fill="#000"/>
<circle cx="342.15" cy="487.00" r="1.62" fill="#000"/>
<circle cx="346.85" cy="485.50" r="1.62" fill="#000"/>
<circle cx="351.65" cy="484.30" r="1.62" fill="#000"/>
<circle cx="356.25" cy="482.90" r="1.62" fill="#000"/>
<circle cx="360.45" cy="485.00" r="1.62" fill="#3a55b0"/>
<circle cx="365.25" cy="484.80" r="1.62" fill="#3a55b0"/>
<circle cx="369.05" cy="481.20" r="1.62" fill="#3a55b0"/>
<circle cx="369.05" cy="476.80" r="1.62" fill="#3a55b0"/>
<circle cx="365.55" cy="473.10" r="1.62" fill="#3a55b0"/>
<circle cx="361.15" cy="472.10" r="1.62" fill="#3a55b0"/>
<circle cx="358.45" cy="473.60" r="1.62" fill="#3a55b0"/>
<circle cx="354.65" cy="478.70" r="1.62" fill="#000"/>
<circle cx="349.95" cy="479.90" r="1.62" fill="#000"/>
<circle cx="345.25" cy="481.40" r="1.62" fill="#000"/>
<circle cx="340.35" cy="482.90" r="1.62" fill="#000"/>
<circle cx="335.75" cy="484.30" r="1.62" fill="#000"/>
<circle cx="330.35" cy="483.12" r="1.62" fill="#000"/>
<circle cx="330.35" cy="478.60" r="1.62" fill="#000"/>
<circle cx="330.35" cy="474.08" r="1.62" fill="#000"/>
<circle cx="330.35" cy="469.56" r="1.62" fill="#000"/>
<circle cx="330.35" cy="465.04" r="1.62" fill="#000"/>
<circle cx="330.35" cy="460.52" r="1.62" fill="#000"/>
<circle cx="330.35" cy="456.00" r="1.62" fill="#000"/>
<circle cx="332.05" cy="452.10" r="1.62" fill="#000"/>
<text x="336.05" y="462.35" font-size="4.60" text-anchor="middle" fill="#222">70</text>
<text x="351.15" y="476.25" font-size="4.60" text-anchor="middle" fill="#222">60</text>
<text x="348.25" y="491.85" font-size="4.60" text-anchor="middle" fill="#222">50</text>
<text x="327.25" y="519.05" font-size="4.60" text-anchor="middle" fill="#222">40</text>
<text x="309.15" y="521.45" font-size="4.60" text-anchor="middle" fill="#222">30</text>
<text x="299.75" y="510.55" font-size="4.60" text-anchor="middle" fill="#222">20</text>
<text x="312.65" y="490.65" font-size="4.60" text-anchor="middle" fill="#222">10</text>
<text x="328.50" y="447.50" font-size="5.72" text-anchor="middle" fill="#161616">Min.</text>
<path d="M419.80 456.00 L419.80 460.52 L419.80 465.04 L419.80 469.56 L419.80 474.08 L419.80 478.60 L419.80 483.12 L415.25 485.00 L412.20 488.35 L410.85 493.10 L405.75 493.10 L400.75 493.10 L397.95 489.50 L393.45 487.90 L388.55 488.40 L384.75 491.70 L383.15 495.90 L384.75 500.10 L388.55 503.00 L393.45 503.50 L397.95 501.60 L400.75 497.80 L405.75 497.80 L410.85 497.80 L415.45 502.00 L413.95 506.40 L412.55 510.80 L411.35 515.10 L409.85 519.50 L408.35 523.50 L404.25 525.50 L401.85 529.10 L403.15 533.70 L407.35 536.50 L411.95 536.50 L415.55 533.30 L416.45 528.40 L413.25 524.90 L414.75 520.60 L415.95 516.40 L417.35 512.00 L418.65 507.60 L420.15 503.40 L424.55 502.70 L429.05 500.80 L432.35 497.20 L433.45 492.80 L431.75 488.40 L436.45 487.00 L441.15 485.50 L445.95 484.30 L450.55 482.90 L454.75 485.00 L459.55 484.80 L463.35 481.20 L463.35 476.80 L459.85 473.10 L455.45 472.10 L452.75 473.60 L448.95 478.70 L444.25 479.90 L439.55 481.40 L434.65 482.90 L430.05 484.30 L424.65 483.12 L424.65 478.60 L424.65 474.08 L424.65 469.56 L424.65 465.04 L424.65 460.52 L424.65 456.00 L426.35 452.10" fill="none" stroke="#000" stroke-width="0.35"/>
<path d="M419.80 456.00L424.65 456.00M419.80 460.52L424.65 460.52M419.80 465.04L424.65 465.04M419.80 469.56L424.65 469.56M419.80 474.08L424.65 474.08M419.80 478.60L424.65 478.60M419.80 483.12L424.65 483.12M410.85 493.10L410.85 497.80M405.75 493.10L405.75 497.80M400.75 493.10L400.75 497.80M415.45 502.00L420.15 503.40M413.95 506.40L418.65 507.60M412.55 510.80L417.35 512.00M411.35 515.10L415.95 516.40M409.85 519.50L414.75 520.60M408.35 523.50L413.25 524.90M431.75 488.40L430.05 484.30M436.45 487.00L434.65 482.90M441.15 485.50L439.55 481.40M445.95 484.30L444.25 479.90M450.55 482.90L448.95 478.70" fill="none" stroke="#000" stroke-width="0.35"/>
<circle cx="419.80" cy="456.00" r="1.62" fill="#000"/>
<circle cx="419.80" cy="460.52" r="1.62" fill="#000"/>
<circle cx="419.80" cy="465.04" r="1.62" fill="#000"/>
<circle cx="419.80" cy="469.56" r="1.62" fill="#000"/>
<circle cx="419.80" cy="474.08" r="1.62" fill="#000"/>
<circle cx="419.80" cy="478.60" r="1.62" fill="#000"/>
<circle cx="419.80" cy="483.12" r="1.62" fill="#000"/>
<circle cx="415.25" cy="485.00" r="1.62" fill="#e2471f"/>
<circle cx="412.20" cy="488.35" r="1.62" fill="#e54f20"/>
<circle cx="410.85" cy="493.10" r="1.62" fill="#000"/>
<circle cx="405.75" cy="493.10" r="1.62" fill="#000"/>
<circle cx="400.75" cy="493.10" r="1.62" fill="#000"/>
<circle cx="397.95" cy="489.50" r="1.62" fill="#000"/>
<circle cx="393.45" cy="487.90" r="1.62" fill="#7478c0"/>
<circle cx="388.55" cy="488.40" r="1.62" fill="#a5a3d8"/>
<circle cx="384.75" cy="491.70" r="1.62" fill="#fdebd3"/>
<circle cx="383.15" cy="495.90" r="1.62" fill="#f5a623"/>
<circle cx="384.75" cy="500.10" r="1.62" fill="#7478c0"/>
<circle cx="388.55" cy="503.00" r="1.62" fill="#a5a3d8"/>
<circle cx="393.45" cy="503.50" r="1.62" fill="#fbd99c"/>
<circle cx="397.95" cy="501.60" r="1.62" fill="#000"/>
<circle cx="400.75" cy="497.80" r="1.62" fill="#000"/>
<circle cx="405.75" cy="497.80" r="1.62" fill="#000"/>
<circle cx="410.85" cy="497.80" r="1.62" fill="#000"/>
<circle cx="415.45" cy="502.00" r="1.62" fill="#000"/>
<circle cx="413.95" cy="506.40" r="1.62" fill="#000"/>
<circle cx="412.55" cy="510.80" r="1.62" fill="#000"/>
<circle cx="411.35" cy="515.10" r="1.62" fill="#000"/>
<circle cx="409.85" cy="519.50" r="1.62" fill="#000"/>
<circle cx="408.35" cy="523.50" r="1.62" fill="#000"/>
<circle cx="404.25" cy="525.50" r="1.62" fill="#000"/>
<circle cx="401.85" cy="529.10" r="1.62" fill="#000"/>
<circle cx="403.15" cy="533.70" r="1.62" fill="#000"/>
<circle cx="407.35" cy="536.50" r="1.62" fill="#000"/>
<circle cx="411.95" cy="536.50" r="1.62" fill="#000"/>
<circle cx="415.55" cy="533.30" r="1.62" fill="#000"/>
<circle cx="416.45" cy="528.40" r="1.62" fill="#000"/>
<circle cx="413.25" cy="524.90" r="1.62" fill="#000"/>
<circle cx="414.75" cy="520.60" r="1.62" fill="#000"/>
<circle cx="415.95" cy="516.40" r="1.62" fill="#000"/>
<circle cx="417.35" cy="512.00" r="1.62" fill="#000"/>
<circle cx="418.65" cy="507.60" r="1.62" fill="#000"/>
<circle cx="420.15" cy="503.40" r="1.62" fill="#000"/>
<circle cx="424.55" cy="502.70" r="1.62" fill="#000"/>
<circle cx="429.05" cy="500.80" r="1.62" fill="#000"/>
<circle cx="432.35" cy="497.20" r="1.62" fill="#000"/>
<circle cx="433.45" cy="492.80" r="1.62" fill="#000"/>
<circle cx="431.75" cy="488.40" r="1.62" fill="#000"/>
<circle cx="436.45" cy="487.00" r="1.62" fill="#000"/>
<circle cx="441.15" cy="485.50" r="1.62" fill="#000"/>
<circle cx="445.95" cy="484.30" r="1.62" fill="#000"/>
<circle cx="450.55" cy="482.90" r="1.62" fill="#000"/>
<circle cx="454.75" cy="485.00" r="1.62" fill="#3a55b0"/>
<circle cx="459.55" cy="484.80" r="1.62" fill="#3a55b0"/>
<circle cx="463.35" cy="481.20" r="1.62" fill="#bcbbe2"/>
<circle cx="463.35" cy="476.80" r="1.62" fill="#3a55b0"/>
<circle cx="459.85" cy="473.10" r="1.62" fill="#3a55b0"/>
<circle cx="455.45" cy="472.10" r="1.62" fill="#fbcf86"/>
<circle cx="452.75" cy="473.60" r="1.62" fill="#3a55b0"/>
<circle cx="448.95" cy="478.70" r="1.62" fill="#000"/>
<circle cx="444.25" cy="479.90" r="1.62" fill="#000"/>
<circle cx="439.55" cy="481.40" r="1.62" fill="#000"/>
<circle cx="434.65" cy="482.90" r="1.62" fill="#000"/>
<circle cx="430.05" cy="484.30" r="1.62" fill="#000"/>
<circle cx="424.65" cy="483.12" r="1.62" fill="#000"/>
<circle cx="424.65" cy="478.60" r="1.62" fill="#000"/>
<circle cx="424.65" cy="474.08" r="1.62" fill="#000"/>
<circle cx="424.65" cy="469.56" r="1.62" fill="#000"/>
<circle cx="424.65" cy="465.04" r="1.62" fill="#000"/>
<circle cx="424.65" cy="460.52" r="1.62" fill="#000"/>
<circle cx="424.65" cy="456.00" r="1.62" fill="#000"/>
<circle cx="426.35" cy="452.10" r="1.62" fill="#000"/>
<text x="430.35" y="462.35" font-size="4.60" text-anchor="middle" fill="#222">70</text>
<text x="445.45" y="476.25" font-size="4.60" text-anchor="middle" fill="#222">60</text>
<text x="442.55" y="491.85" font-size="4.60" text-anchor="middle" fill="#222">50</text>
<text x="421.55" y="519.05" font-size="4.60" text-anchor="middle" fill="#222">40</text>
<text x="403.45" y="521.45" font-size="4.60" text-anchor="middle" fill="#222">30</text>
<text x="394.05" y="510.55" font-size="4.60" text-anchor="middle" fill="#222">20</text>
<text x="406.95" y="490.65" font-size="4.60" text-anchor="middle" fill="#222">10</text>
<text x="423.30" y="447.50" font-size="5.63" text-anchor="middle" fill="#161616">Max.</text>
<text x="288.30" y="567.00" font-size="12.00" text-anchor="start" fill="#000" font-weight="bold">g</text>
<text x="375.20" y="571.00" font-size="7.54" text-anchor="middle" fill="#161616">Positional effect on 5′ processing</text>
<path d="M324.50 594.20 L324.50 598.72 L324.50 603.24 L324.50 607.76 L324.50 612.28 L324.50 616.80 L324.50 621.32 L319.95 623.20 L316.90 626.55 L315.55 631.30 L310.45 631.30 L305.45 631.30 L302.65 627.70 L298.15 626.10 L293.25 626.60 L289.45 629.90 L287.85 634.10 L289.45 638.30 L293.25 641.20 L298.15 641.70 L302.65 639.80 L305.45 636.00 L310.45 636.00 L315.55 636.00 L320.15 640.20 L318.65 644.60 L317.25 649.00 L316.05 653.30 L314.55 657.70 L313.05 661.70 L308.95 663.70 L306.55 667.30 L307.85 671.90 L312.05 674.70 L316.65 674.70 L320.25 671.50 L321.15 666.60 L317.95 663.10 L319.45 658.80 L320.65 654.60 L322.05 650.20 L323.35 645.80 L324.85 641.60 L329.25 640.90 L333.75 639.00 L337.05 635.40 L338.15 631.00 L336.45 626.60 L341.15 625.20 L345.85 623.70 L350.65 622.50 L355.25 621.10 L359.45 623.20 L364.25 623.00 L368.05 619.40 L368.05 615.00 L364.55 611.30 L360.15 610.30 L357.45 611.80 L353.65 616.90 L348.95 618.10 L344.25 619.60 L339.35 621.10 L334.75 622.50 L329.35 621.32 L329.35 616.80 L329.35 612.28 L329.35 607.76 L329.35 603.24 L329.35 598.72 L329.35 594.20 L331.05 590.30" fill="none" stroke="#000" stroke-width="0.35"/>
<path d="M324.50 594.20L329.35 594.20M324.50 598.72L329.35 598.72M324.50 603.24L329.35 603.24M324.50 607.76L329.35 607.76M324.50 612.28L329.35 612.28M324.50 616.80L329.35 616.80M324.50 621.32L329.35 621.32M315.55 631.30L315.55 636.00M310.45 631.30L310.45 636.00M305.45 631.30L305.45 636.00M320.15 640.20L324.85 641.60M318.65 644.60L323.35 645.80M317.25 649.00L322.05 650.20M316.05 653.30L320.65 654.60M314.55 657.70L319.45 658.80M313.05 661.70L317.95 663.10M336.45 626.60L334.75 622.50M341.15 625.20L339.35 621.10M345.85 623.70L344.25 619.60M350.65 622.50L348.95 618.10M355.25 621.10L353.65 616.90" fill="none" stroke="#000" stroke-width="0.35"/>
<circle cx="324.50" cy="594.20" r="1.62" fill="#000"/>
<circle cx="324.50" cy="598.72" r="1.62" fill="#000"/>
<circle cx="324.50" cy="603.24" r="1.62" fill="#000"/>
<circle cx="324.50" cy="607.76" r="1.62" fill="#000"/>
<circle cx="324.50" cy="612.28" r="1.62" fill="#000"/>
<circle cx="324.50" cy="616.80" r="1.62" fill="#000"/>
<circle cx="324.50" cy="621.32" r="1.62" fill="#000"/>
<circle cx="319.95" cy="623.20" r="1.62" fill="#a5a3d8"/>
<circle cx="316.90" cy="626.55" r="1.62" fill="#4048a5"/>
<circle cx="315.55" cy="631.30" r="1.62" fill="#000"/>
<circle cx="310.45" cy="631.30" r="1.62" fill="#000"/>
<circle cx="305.45" cy="631.30" r="1.62" fill="#000"/>
<circle cx="302.65" cy="627.70" r="1.62" fill="#000"/>
<circle cx="298.15" cy="626.10" r="1.62" fill="#6468b8"/>
<circle cx="293.25" cy="626.60" r="1.62" fill="#3a4ca6"/>
<circle cx="289.45" cy="629.90" r="1.62" fill="#c5c3e6"/>
<circle cx="287.85" cy="634.10" r="1.62" fill="#4a55ad"/>
<circle cx="289.45" cy="638.30" r="1.62" fill="#5a5fb3"/>
<circle cx="293.25" cy="641.20" r="1.62" fill="#5a5fb3"/>
<circle cx="298.15" cy="641.70" r="1.62" fill="#f6f6f6"/>
<circle cx="302.65" cy="639.80" r="1.62" fill="#000"/>
<circle cx="305.45" cy="636.00" r="1.62" fill="#000"/>
<circle cx="310.45" cy="636.00" r="1.62" fill="#000"/>
<circle cx="315.55" cy="636.00" r="1.62" fill="#000"/>
<circle cx="320.15" cy="640.20" r="1.62" fill="#000"/>
<circle cx="318.65" cy="644.60" r="1.62" fill="#000"/>
<circle cx="317.25" cy="649.00" r="1.62" fill="#000"/>
<circle cx="316.05" cy="653.30" r="1.62" fill="#000"/>
<circle cx="314.55" cy="657.70" r="1.62" fill="#000"/>
<circle cx="313.05" cy="661.70" r="1.62" fill="#000"/>
<circle cx="308.95" cy="663.70" r="1.62" fill="#000"/>
<circle cx="306.55" cy="667.30" r="1.62" fill="#000"/>
<circle cx="307.85" cy="671.90" r="1.62" fill="#000"/>
<circle cx="312.05" cy="674.70" r="1.62" fill="#000"/>
<circle cx="316.65" cy="674.70" r="1.62" fill="#000"/>
<circle cx="320.25" cy="671.50" r="1.62" fill="#000"/>
<circle cx="321.15" cy="666.60" r="1.62" fill="#000"/>
<circle cx="317.95" cy="663.10" r="1.62" fill="#000"/>
<circle cx="319.45" cy="658.80" r="1.62" fill="#000"/>
<circle cx="320.65" cy="654.60" r="1.62" fill="#000"/>
<circle cx="322.05" cy="650.20" r="1.62" fill="#000"/>
<circle cx="323.35" cy="645.80" r="1.62" fill="#000"/>
<circle cx="324.85" cy="641.60" r="1.62" fill="#000"/>
<circle cx="329.25" cy="640.90" r="1.62" fill="#000"/>
<circle cx="333.75" cy="639.00" r="1.62" fill="#000"/>
<circle cx="337.05" cy="635.40" r="1.62" fill="#000"/>
<circle cx="338.15" cy="631.00" r="1.62" fill="#000"/>
<circle cx="336.45" cy="626.60" r="1.62" fill="#000"/>
<circle cx="341.15" cy="625.20" r="1.62" fill="#000"/>
<circle cx="345.85" cy="623.70" r="1.62" fill="#000"/>
<circle cx="350.65" cy="622.50" r="1.62" fill="#000"/>
<circle cx="355.25" cy="621.10" r="1.62" fill="#000"/>
<circle cx="359.45" cy="623.20" r="1.62" fill="#3a4ca6"/>
<circle cx="364.25" cy="623.00" r="1.62" fill="#f6f6f6"/>
<circle cx="368.05" cy="619.40" r="1.62" fill="#3a4ca6"/>
<circle cx="368.05" cy="615.00" r="1.62" fill="#c5c3e6"/>
<circle cx="364.55" cy="611.30" r="1.62" fill="#3a4ca6"/>
<circle cx="360.15" cy="610.30" r="1.62" fill="#b5b3de"/>
<circle cx="357.45" cy="611.80" r="1.62" fill="#3f4ea7"/>
<circle cx="353.65" cy="616.90" r="1.62" fill="#000"/>
<circle cx="348.95" cy="618.10" r="1.62" fill="#000"/>
<circle cx="344.25" cy="619.60" r="1.62" fill="#000"/>
<circle cx="339.35" cy="621.10" r="1.62" fill="#000"/>
<circle cx="334.75" cy="622.50" r="1.62" fill="#000"/>
<circle cx="329.35" cy="621.32" r="1.62" fill="#000"/>
<circle cx="329.35" cy="616.80" r="1.62" fill="#000"/>
<circle cx="329.35" cy="612.28" r="1.62" fill="#000"/>
<circle cx="329.35" cy="607.76" r="1.62" fill="#000"/>
<circle cx="329.35" cy="603.24" r="1.62" fill="#000"/>
<circle cx="329.35" cy="598.72" r="1.62" fill="#000"/>
<circle cx="329.35" cy="594.20" r="1.62" fill="#000"/>
<circle cx="331.05" cy="590.30" r="1.62" fill="#000"/>
<text x="335.05" y="600.55" font-size="4.60" text-anchor="middle" fill="#222">70</text>
<text x="350.15" y="614.45" font-size="4.60" text-anchor="middle" fill="#222">60</text>
<text x="347.25" y="630.05" font-size="4.60" text-anchor="middle" fill="#222">50</text>
<text x="326.25" y="657.25" font-size="4.60" text-anchor="middle" fill="#222">40</text>
<text x="308.15" y="659.65" font-size="4.60" text-anchor="middle" fill="#222">30</text>
<text x="298.75" y="648.75" font-size="4.60" text-anchor="middle" fill="#222">20</text>
<text x="311.65" y="628.85" font-size="4.60" text-anchor="middle" fill="#222">10</text>
<text x="327.05" y="585.20" font-size="5.45" text-anchor="middle" fill="#161616">Min.</text>
<path d="M418.60 594.20 L418.60 598.72 L418.60 603.24 L418.60 607.76 L418.60 612.28 L418.60 616.80 L418.60 621.32 L414.05 623.20 L411.00 626.55 L409.65 631.30 L404.55 631.30 L399.55 631.30 L396.75 627.70 L392.25 626.10 L387.35 626.60 L383.55 629.90 L381.95 634.10 L383.55 638.30 L387.35 641.20 L392.25 641.70 L396.75 639.80 L399.55 636.00 L404.55 636.00 L409.65 636.00 L414.25 640.20 L412.75 644.60 L411.35 649.00 L410.15 653.30 L408.65 657.70 L407.15 661.70 L403.05 663.70 L400.65 667.30 L401.95 671.90 L406.15 674.70 L410.75 674.70 L414.35 671.50 L415.25 666.60 L412.05 663.10 L413.55 658.80 L414.75 654.60 L416.15 650.20 L417.45 645.80 L418.95 641.60 L423.35 640.90 L427.85 639.00 L431.15 635.40 L432.25 631.00 L430.55 626.60 L435.25 625.20 L439.95 623.70 L444.75 622.50 L449.35 621.10 L453.55 623.20 L458.35 623.00 L462.15 619.40 L462.15 615.00 L458.65 611.30 L454.25 610.30 L451.55 611.80 L447.75 616.90 L443.05 618.10 L438.35 619.60 L433.45 621.10 L428.85 622.50 L423.45 621.32 L423.45 616.80 L423.45 612.28 L423.45 607.76 L423.45 603.24 L423.45 598.72 L423.45 594.20 L425.15 590.30" fill="none" stroke="#000" stroke-width="0.35"/>
<path d="M418.60 594.20L423.45 594.20M418.60 598.72L423.45 598.72M418.60 603.24L423.45 603.24M418.60 607.76L423.45 607.76M418.60 612.28L423.45 612.28M418.60 616.80L423.45 616.80M418.60 621.32L423.45 621.32M409.65 631.30L409.65 636.00M404.55 631.30L404.55 636.00M399.55 631.30L399.55 636.00M414.25 640.20L418.95 641.60M412.75 644.60L417.45 645.80M411.35 649.00L416.15 650.20M410.15 653.30L414.75 654.60M408.65 657.70L413.55 658.80M407.15 661.70L412.05 663.10M430.55 626.60L428.85 622.50M435.25 625.20L433.45 621.10M439.95 623.70L438.35 619.60M444.75 622.50L443.05 618.10M449.35 621.10L447.75 616.90" fill="none" stroke="#000" stroke-width="0.35"/>
<circle cx="418.60" cy="594.20" r="1.62" fill="#000"/>
<circle cx="418.60" cy="598.72" r="1.62" fill="#000"/>
<circle cx="418.60" cy="603.24" r="1.62" fill="#000"/>
<circle cx="418.60" cy="607.76" r="1.62" fill="#000"/>
<circle cx="418.60" cy="612.28" r="1.62" fill="#000"/>
<circle cx="418.60" cy="616.80" r="1.62" fill="#000"/>
<circle cx="418.60" cy="621.32" r="1.62" fill="#000"/>
<circle cx="414.05" cy="623.20" r="1.62" fill="#fbd594"/>
<circle cx="411.00" cy="626.55" r="1.62" fill="#f6f6f6"/>
<circle cx="409.65" cy="631.30" r="1.62" fill="#000"/>
<circle cx="404.55" cy="631.30" r="1.62" fill="#000"/>
<circle cx="399.55" cy="631.30" r="1.62" fill="#000"/>
<circle cx="396.75" cy="627.70" r="1.62" fill="#000"/>
<circle cx="392.25" cy="626.10" r="1.62" fill="#f6f6f6"/>
<circle cx="387.35" cy="626.60" r="1.62" fill="#3a4ca6"/>
<circle cx="383.55" cy="629.90" r="1.62" fill="#f6f6f6"/>
<circle cx="381.95" cy="634.10" r="1.62" fill="#fde4b8"/>
<circle cx="383.55" cy="638.30" r="1.62" fill="#f6f6f6"/>
<circle cx="387.35" cy="641.20" r="1.62" fill="#fbc876"/>
<circle cx="392.25" cy="641.70" r="1.62" fill="#fbd594"/>
<circle cx="396.75" cy="639.80" r="1.62" fill="#000"/>
<circle cx="399.55" cy="636.00" r="1.62" fill="#000"/>
<circle cx="404.55" cy="636.00" r="1.62" fill="#000"/>
<circle cx="409.65" cy="636.00" r="1.62" fill="#000"/>
<circle cx="414.25" cy="640.20" r="1.62" fill="#000"/>
<circle cx="412.75" cy="644.60" r="1.62" fill="#000"/>
<circle cx="411.35" cy="649.00" r="1.62" fill="#000"/>
<circle cx="410.15" cy="653.30" r="1.62" fill="#000"/>
<circle cx="408.65" cy="657.70" r="1.62" fill="#000"/>
<circle cx="407.15" cy="661.70" r="1.62" fill="#000"/>
<circle cx="403.05" cy="663.70" r="1.62" fill="#000"/>
<circle cx="400.65" cy="667.30" r="1.62" fill="#000"/>
<circle cx="401.95" cy="671.90" r="1.62" fill="#000"/>
<circle cx="406.15" cy="674.70" r="1.62" fill="#000"/>
<circle cx="410.75" cy="674.70" r="1.62" fill="#000"/>
<circle cx="414.35" cy="671.50" r="1.62" fill="#000"/>
<circle cx="415.25" cy="666.60" r="1.62" fill="#000"/>
<circle cx="412.05" cy="663.10" r="1.62" fill="#000"/>
<circle cx="413.55" cy="658.80" r="1.62" fill="#000"/>
<circle cx="414.75" cy="654.60" r="1.62" fill="#000"/>
<circle cx="416.15" cy="650.20" r="1.62" fill="#000"/>
<circle cx="417.45" cy="645.80" r="1.62" fill="#000"/>
<circle cx="418.95" cy="641.60" r="1.62" fill="#000"/>
<circle cx="423.35" cy="640.90" r="1.62" fill="#000"/>
<circle cx="427.85" cy="639.00" r="1.62" fill="#000"/>
<circle cx="431.15" cy="635.40" r="1.62" fill="#000"/>
<circle cx="432.25" cy="631.00" r="1.62" fill="#000"/>
<circle cx="430.55" cy="626.60" r="1.62" fill="#000"/>
<circle cx="435.25" cy="625.20" r="1.62" fill="#000"/>
<circle cx="439.95" cy="623.70" r="1.62" fill="#000"/>
<circle cx="444.75" cy="622.50" r="1.62" fill="#000"/>
<circle cx="449.35" cy="621.10" r="1.62" fill="#000"/>
<circle cx="453.55" cy="623.20" r="1.62" fill="#f6f6f6"/>
<circle cx="458.35" cy="623.00" r="1.62" fill="#fbd08a"/>
<circle cx="462.15" cy="619.40" r="1.62" fill="#c5c3e6"/>
<circle cx="462.15" cy="615.00" r="1.62" fill="#fbd594"/>
<circle cx="458.65" cy="611.30" r="1.62" fill="#4a55ad"/>
<circle cx="454.25" cy="610.30" r="1.62" fill="#f6f6f6"/>
<circle cx="451.55" cy="611.80" r="1.62" fill="#f6f6f6"/>
<circle cx="447.75" cy="616.90" r="1.62" fill="#000"/>
<circle cx="443.05" cy="618.10" r="1.62" fill="#000"/>
<circle cx="438.35" cy="619.60" r="1.62" fill="#000"/>
<circle cx="433.45" cy="621.10" r="1.62" fill="#000"/>
<circle cx="428.85" cy="622.50" r="1.62" fill="#000"/>
<circle cx="423.45" cy="621.32" r="1.62" fill="#000"/>
<circle cx="423.45" cy="616.80" r="1.62" fill="#000"/>
<circle cx="423.45" cy="612.28" r="1.62" fill="#000"/>
<circle cx="423.45" cy="607.76" r="1.62" fill="#000"/>
<circle cx="423.45" cy="603.24" r="1.62" fill="#000"/>
<circle cx="423.45" cy="598.72" r="1.62" fill="#000"/>
<circle cx="423.45" cy="594.20" r="1.62" fill="#000"/>
<circle cx="425.15" cy="590.30" r="1.62" fill="#000"/>
<text x="429.15" y="600.55" font-size="4.60" text-anchor="middle" fill="#222">70</text>
<text x="444.25" y="614.45" font-size="4.60" text-anchor="middle" fill="#222">60</text>
<text x="441.35" y="630.05" font-size="4.60" text-anchor="middle" fill="#222">50</text>
<text x="420.35" y="657.25" font-size="4.60" text-anchor="middle" fill="#222">40</text>
<text x="402.25" y="659.65" font-size="4.60" text-anchor="middle" fill="#222">30</text>
<text x="392.85" y="648.75" font-size="4.60" text-anchor="middle" fill="#222">20</text>
<text x="405.75" y="628.85" font-size="4.60" text-anchor="middle" fill="#222">10</text>
<text x="421.70" y="585.20" font-size="5.54" text-anchor="middle" fill="#161616">Max.</text>
<text x="480.40" y="283.30" font-size="12.00" text-anchor="start" fill="#000" font-weight="bold">h</text>
<rect x="505.40" y="290.20" width="97.00" height="97.10" fill="#fff" stroke="#2a2a2a" stroke-width="0.75"/>
<circle cx="520.4" cy="294.3" r="1.5" fill="#bbbbbb"/>
<circle cx="528.6" cy="303.2" r="1.5" fill="#bbbbbb"/>
<circle cx="526.8" cy="304.9" r="1.5" fill="#bbbbbb"/>
<circle cx="522.1" cy="307.9" r="1.5" fill="#bbbbbb"/>
<circle cx="522.1" cy="309.6" r="1.5" fill="#bbbbbb"/>
<circle cx="525.8" cy="311.4" r="1.5" fill="#bbbbbb"/>
<circle cx="511.7" cy="314.2" r="1.5" fill="#bbbbbb"/>
<circle cx="516.9" cy="314.2" r="1.5" fill="#bbbbbb"/>
<circle cx="534.5" cy="320.8" r="1.5" fill="#bbbbbb"/>
<circle cx="523.5" cy="322.0" r="1.5" fill="#bbbbbb"/>
<circle cx="531.4" cy="322.0" r="1.5" fill="#bbbbbb"/>
<circle cx="514.6" cy="323.2" r="1.5" fill="#bbbbbb"/>
<circle cx="523.5" cy="324.1" r="1.5" fill="#bbbbbb"/>
<circle cx="529.8" cy="323.6" r="1.5" fill="#bbbbbb"/>
<circle cx="509.4" cy="324.8" r="1.5" fill="#bbbbbb"/>
<circle cx="538.5" cy="325.5" r="1.5" fill="#bbbbbb"/>
<circle cx="541.1" cy="330.2" r="1.5" fill="#bbbbbb"/>
<circle cx="512.9" cy="340.0" r="1.5" fill="#bbbbbb"/>
<circle cx="533.3" cy="339.6" r="1.5" fill="#bbbbbb"/>
<circle cx="523.5" cy="343.1" r="1.5" fill="#bbbbbb"/>
<circle cx="534.5" cy="343.1" r="1.5" fill="#bbbbbb"/>
<circle cx="541.1" cy="341.9" r="1.5" fill="#bbbbbb"/>
<circle cx="541.1" cy="343.6" r="1.5" fill="#bbbbbb"/>
<circle cx="547.4" cy="340.5" r="1.5" fill="#bbbbbb"/>
<circle cx="554.0" cy="337.7" r="1.5" fill="#bbbbbb"/>
<circle cx="546.2" cy="349.9" r="1.5" fill="#bbbbbb"/>
<circle cx="552.6" cy="348.3" r="1.5" fill="#bbbbbb"/>
<circle cx="557.9" cy="351.3" r="1.5" fill="#bbbbbb"/>
<circle cx="542.2" cy="352.9" r="1.5" fill="#bbbbbb"/>
<circle cx="509.4" cy="355.3" r="1.5" fill="#bbbbbb"/>
<circle cx="516.9" cy="356.5" r="1.5" fill="#bbbbbb"/>
<circle cx="533.3" cy="357.9" r="1.5" fill="#bbbbbb"/>
<circle cx="547.4" cy="361.6" r="1.5" fill="#bbbbbb"/>
<circle cx="552.6" cy="366.3" r="1.5" fill="#bbbbbb"/>
<circle cx="512.9" cy="368.2" r="1.5" fill="#bbbbbb"/>
<circle cx="528.2" cy="370.5" r="1.5" fill="#bbbbbb"/>
<circle cx="538.5" cy="371.7" r="1.5" fill="#bbbbbb"/>
<circle cx="541.1" cy="371.7" r="1.5" fill="#bbbbbb"/>
<circle cx="541.1" cy="384.1" r="1.5" fill="#bbbbbb"/>
<circle cx="573.2" cy="333.7" r="1.5" fill="#bbbbbb"/>
<circle cx="579.5" cy="325.5" r="1.5" fill="#bbbbbb"/>
<circle cx="597.3" cy="329.0" r="1.5" fill="#bbbbbb"/>
<circle cx="598.5" cy="337.7" r="1.5" fill="#bbbbbb"/>
<circle cx="587.3" cy="343.8" r="1.5" fill="#bbbbbb"/>
<circle cx="577.2" cy="369.6" r="1.5" fill="#bbbbbb"/>
<path d="M505.4 330.7L602.4 352.0" stroke="#e6352c" stroke-width="1.05"/>
<path d="M518.1 387.3V389.5" stroke="#222" stroke-width="0.6"/>
<text x="518.10" y="396.40" font-size="6.90" text-anchor="middle" fill="#161616">−0.4</text>
<path d="M543.4 387.3V389.5" stroke="#222" stroke-width="0.6"/>
<text x="543.40" y="396.40" font-size="6.90" text-anchor="middle" fill="#161616">−0.2</text>
<path d="M569.0 387.3V389.5" stroke="#222" stroke-width="0.6"/>
<text x="569.00" y="396.40" font-size="6.90" text-anchor="middle" fill="#161616">0.0</text>
<path d="M594.3 387.3V389.5" stroke="#222" stroke-width="0.6"/>
<text x="594.30" y="396.40" font-size="6.90" text-anchor="middle" fill="#161616">0.2</text>
<path d="M505.4 292.0H503.2" stroke="#222" stroke-width="0.6"/>
<text x="500.80" y="294.50" font-size="6.90" text-anchor="end" fill="#161616">4</text>
<path d="M505.4 311.4H503.2" stroke="#222" stroke-width="0.6"/>
<text x="500.80" y="313.90" font-size="6.90" text-anchor="end" fill="#161616">2</text>
<path d="M505.4 331.1H503.2" stroke="#222" stroke-width="0.6"/>
<text x="500.80" y="333.60" font-size="6.90" text-anchor="end" fill="#161616">0</text>
<path d="M505.4 350.6H503.2" stroke="#222" stroke-width="0.6"/>
<text x="500.80" y="353.10" font-size="6.90" text-anchor="end" fill="#161616">−2</text>
<path d="M505.4 370.3H503.2" stroke="#222" stroke-width="0.6"/>
<text x="500.80" y="372.80" font-size="6.90" text-anchor="end" fill="#161616">−4</text>
<text x="487.28" y="338.90" font-size="7.44" text-anchor="middle" fill="#161616" transform="rotate(-90 487.28 338.90)">Promoter effect</text>
<text x="553.30" y="408.60" font-size="7.65" text-anchor="middle" fill="#161616">Δ 3′ processing</text>
<text x="535.20" y="301.80" font-size="7.67" fill="#222">Adjusted <tspan font-style="italic">R</tspan><tspan dy="-2.76" font-size="4.75">2</tspan><tspan dy="2.76" font-size="7.67"> = 0.04</tspan></text>
<rect x="507.10" y="427.70" width="96.50" height="96.60" fill="#fff" stroke="#2a2a2a" stroke-width="0.75"/>
<circle cx="528.2" cy="431.0" r="1.5" fill="#bbbbbb"/>
<circle cx="528.2" cy="439.9" r="1.5" fill="#bbbbbb"/>
<circle cx="537.3" cy="441.0" r="1.5" fill="#bbbbbb"/>
<circle cx="561.9" cy="444.1" r="1.5" fill="#bbbbbb"/>
<circle cx="521.6" cy="446.2" r="1.5" fill="#bbbbbb"/>
<circle cx="552.8" cy="448.1" r="1.5" fill="#bbbbbb"/>
<circle cx="535.0" cy="450.4" r="1.5" fill="#bbbbbb"/>
<circle cx="526.3" cy="459.8" r="1.5" fill="#bbbbbb"/>
<circle cx="543.9" cy="459.1" r="1.5" fill="#bbbbbb"/>
<circle cx="546.2" cy="462.1" r="1.5" fill="#bbbbbb"/>
<circle cx="548.6" cy="461.4" r="1.5" fill="#bbbbbb"/>
<circle cx="553.3" cy="461.0" r="1.5" fill="#bbbbbb"/>
<circle cx="555.6" cy="462.1" r="1.5" fill="#bbbbbb"/>
<circle cx="559.8" cy="462.1" r="1.5" fill="#bbbbbb"/>
<circle cx="562.2" cy="460.5" r="1.5" fill="#bbbbbb"/>
<circle cx="552.8" cy="466.4" r="1.5" fill="#bbbbbb"/>
<circle cx="557.5" cy="465.7" r="1.5" fill="#bbbbbb"/>
<circle cx="562.2" cy="470.4" r="1.5" fill="#bbbbbb"/>
<circle cx="577.9" cy="457.0" r="1.5" fill="#bbbbbb"/>
<circle cx="593.6" cy="459.1" r="1.5" fill="#bbbbbb"/>
<circle cx="562.2" cy="474.6" r="1.5" fill="#bbbbbb"/>
<circle cx="586.6" cy="474.6" r="1.5" fill="#bbbbbb"/>
<circle cx="588.9" cy="479.0" r="1.5" fill="#bbbbbb"/>
<circle cx="566.6" cy="479.7" r="1.5" fill="#bbbbbb"/>
<circle cx="535.0" cy="476.7" r="1.5" fill="#bbbbbb"/>
<circle cx="542.0" cy="477.4" r="1.5" fill="#bbbbbb"/>
<circle cx="544.3" cy="475.8" r="1.5" fill="#bbbbbb"/>
<circle cx="548.6" cy="480.2" r="1.5" fill="#bbbbbb"/>
<circle cx="532.6" cy="480.4" r="1.5" fill="#bbbbbb"/>
<circle cx="521.6" cy="480.2" r="1.5" fill="#bbbbbb"/>
<circle cx="600.2" cy="484.9" r="1.5" fill="#bbbbbb"/>
<circle cx="600.2" cy="491.9" r="1.5" fill="#bbbbbb"/>
<circle cx="557.5" cy="486.8" r="1.5" fill="#bbbbbb"/>
<circle cx="548.6" cy="487.9" r="1.5" fill="#bbbbbb"/>
<circle cx="537.3" cy="489.6" r="1.5" fill="#bbbbbb"/>
<circle cx="557.5" cy="493.1" r="1.5" fill="#bbbbbb"/>
<circle cx="532.6" cy="494.5" r="1.5" fill="#bbbbbb"/>
<circle cx="562.2" cy="498.5" r="1.5" fill="#bbbbbb"/>
<circle cx="532.6" cy="503.2" r="1.5" fill="#bbbbbb"/>
<circle cx="542.0" cy="504.8" r="1.5" fill="#bbbbbb"/>
<circle cx="552.8" cy="506.2" r="1.5" fill="#bbbbbb"/>
<circle cx="546.2" cy="508.3" r="1.5" fill="#bbbbbb"/>
<circle cx="526.3" cy="508.3" r="1.5" fill="#bbbbbb"/>
<circle cx="575.5" cy="507.2" r="1.5" fill="#bbbbbb"/>
<circle cx="510.3" cy="520.8" r="1.5" fill="#bbbbbb"/>
<path d="M507.1 472.7L603.6 476.2" stroke="#e6352c" stroke-width="1.05"/>
<path d="M510.3 524.3V526.5" stroke="#222" stroke-width="0.6"/>
<text x="510.30" y="534.90" font-size="6.90" text-anchor="middle" fill="#161616">−0.2</text>
<path d="M532.9 524.3V526.5" stroke="#222" stroke-width="0.6"/>
<text x="532.90" y="534.90" font-size="6.90" text-anchor="middle" fill="#161616">−0.1</text>
<path d="M555.1 524.3V526.5" stroke="#222" stroke-width="0.6"/>
<text x="555.10" y="534.90" font-size="6.90" text-anchor="middle" fill="#161616">0.0</text>
<path d="M577.6 524.3V526.5" stroke="#222" stroke-width="0.6"/>
<text x="577.60" y="534.90" font-size="6.90" text-anchor="middle" fill="#161616">0.1</text>
<path d="M600.2 524.3V526.5" stroke="#222" stroke-width="0.6"/>
<text x="600.20" y="534.90" font-size="6.90" text-anchor="middle" fill="#161616">0.2</text>
<path d="M507.1 428.6H504.9" stroke="#222" stroke-width="0.6"/>
<text x="502.30" y="431.10" font-size="6.90" text-anchor="end" fill="#161616">4</text>
<path d="M507.1 448.0H504.9" stroke="#222" stroke-width="0.6"/>
<text x="502.30" y="450.50" font-size="6.90" text-anchor="end" fill="#161616">2</text>
<path d="M507.1 467.5H504.9" stroke="#222" stroke-width="0.6"/>
<text x="502.30" y="470.00" font-size="6.90" text-anchor="end" fill="#161616">0</text>
<path d="M507.1 487.2H504.9" stroke="#222" stroke-width="0.6"/>
<text x="502.30" y="489.70" font-size="6.90" text-anchor="end" fill="#161616">−2</text>
<path d="M507.1 506.7H504.9" stroke="#222" stroke-width="0.6"/>
<text x="502.30" y="509.20" font-size="6.90" text-anchor="end" fill="#161616">−4</text>
<text x="487.28" y="475.00" font-size="7.44" text-anchor="middle" fill="#161616" transform="rotate(-90 487.28 475.00)">Promoter effect</text>
<text x="553.30" y="547.00" font-size="7.65" text-anchor="middle" fill="#161616">Δ 5′ processing</text>
<text x="532.90" y="437.50" font-size="7.56" fill="#222">Adjusted <tspan font-style="italic">R</tspan><tspan dy="-2.72" font-size="4.68">2</tspan><tspan dy="2.72" font-size="7.56"> = −0.02</tspan></text>
<rect x="515.50" y="563.40" width="97.10" height="97.10" fill="#fff" stroke="#2a2a2a" stroke-width="0.75"/>
<circle cx="566.2" cy="568.1" r="1.5" fill="#bbbbbb"/>
<circle cx="570.8" cy="567.0" r="1.5" fill="#bbbbbb"/>
<circle cx="541.5" cy="578.2" r="1.5" fill="#bbbbbb"/>
<circle cx="555.1" cy="586.2" r="1.5" fill="#bbbbbb"/>
<circle cx="561.9" cy="588.8" r="1.5" fill="#bbbbbb"/>
<circle cx="570.8" cy="592.8" r="1.5" fill="#bbbbbb"/>
<circle cx="557.5" cy="608.0" r="1.5" fill="#bbbbbb"/>
<circle cx="541.5" cy="613.2" r="1.5" fill="#bbbbbb"/>
<circle cx="595.5" cy="612.0" r="1.5" fill="#bbbbbb"/>
<circle cx="608.8" cy="613.2" r="1.5" fill="#bbbbbb"/>
<circle cx="550.4" cy="618.1" r="1.5" fill="#bbbbbb"/>
<circle cx="570.8" cy="618.1" r="1.5" fill="#bbbbbb"/>
<circle cx="566.2" cy="619.7" r="1.5" fill="#bbbbbb"/>
<circle cx="546.2" cy="623.3" r="1.5" fill="#bbbbbb"/>
<circle cx="519.2" cy="624.4" r="1.5" fill="#bbbbbb"/>
<circle cx="530.5" cy="624.4" r="1.5" fill="#bbbbbb"/>
<circle cx="555.1" cy="624.4" r="1.5" fill="#bbbbbb"/>
<circle cx="561.9" cy="624.4" r="1.5" fill="#bbbbbb"/>
<circle cx="597.8" cy="624.4" r="1.5" fill="#bbbbbb"/>
<circle cx="535.0" cy="627.2" r="1.5" fill="#bbbbbb"/>
<circle cx="568.5" cy="627.2" r="1.5" fill="#bbbbbb"/>
<circle cx="557.5" cy="631.0" r="1.5" fill="#bbbbbb"/>
<circle cx="552.8" cy="632.2" r="1.5" fill="#bbbbbb"/>
<circle cx="541.5" cy="632.2" r="1.5" fill="#bbbbbb"/>
<circle cx="586.6" cy="631.0" r="1.5" fill="#bbbbbb"/>
<circle cx="602.5" cy="635.0" r="1.5" fill="#bbbbbb"/>
<circle cx="537.3" cy="636.2" r="1.5" fill="#bbbbbb"/>
<circle cx="570.8" cy="636.2" r="1.5" fill="#bbbbbb"/>
<circle cx="584.2" cy="637.3" r="1.5" fill="#bbbbbb"/>
<circle cx="546.2" cy="638.5" r="1.5" fill="#bbbbbb"/>
<circle cx="561.9" cy="640.4" r="1.5" fill="#bbbbbb"/>
<circle cx="561.9" cy="642.5" r="1.5" fill="#bbbbbb"/>
<circle cx="552.8" cy="642.5" r="1.5" fill="#bbbbbb"/>
<circle cx="575.5" cy="642.5" r="1.5" fill="#bbbbbb"/>
<circle cx="570.8" cy="643.7" r="1.5" fill="#bbbbbb"/>
<circle cx="530.5" cy="643.7" r="1.5" fill="#bbbbbb"/>
<circle cx="537.3" cy="645.1" r="1.5" fill="#bbbbbb"/>
<circle cx="543.9" cy="649.1" r="1.5" fill="#bbbbbb"/>
<circle cx="566.2" cy="649.1" r="1.5" fill="#bbbbbb"/>
<circle cx="535.0" cy="651.4" r="1.5" fill="#bbbbbb"/>
<circle cx="550.4" cy="652.6" r="1.5" fill="#bbbbbb"/>
<circle cx="543.9" cy="653.0" r="1.5" fill="#bbbbbb"/>
<circle cx="543.9" cy="654.4" r="1.5" fill="#bbbbbb"/>
<circle cx="557.5" cy="656.6" r="1.5" fill="#bbbbbb"/>
<circle cx="564.0" cy="656.6" r="1.5" fill="#bbbbbb"/>
<circle cx="608.8" cy="656.6" r="1.5" fill="#bbbbbb"/>
<path d="M515.5 632.2L612.6 622.5" stroke="#e6352c" stroke-width="1.05"/>
<path d="M519.2 660.5V662.7" stroke="#222" stroke-width="0.6"/>
<text x="519.20" y="671.40" font-size="6.90" text-anchor="middle" fill="#161616">−0.2</text>
<path d="M541.5 660.5V662.7" stroke="#222" stroke-width="0.6"/>
<text x="541.50" y="671.40" font-size="6.90" text-anchor="middle" fill="#161616">−0.1</text>
<path d="M564.0 660.5V662.7" stroke="#222" stroke-width="0.6"/>
<text x="564.00" y="671.40" font-size="6.90" text-anchor="middle" fill="#161616">0.0</text>
<path d="M586.3 660.5V662.7" stroke="#222" stroke-width="0.6"/>
<text x="586.30" y="671.40" font-size="6.90" text-anchor="middle" fill="#161616">0.1</text>
<path d="M608.8 660.5V662.7" stroke="#222" stroke-width="0.6"/>
<text x="608.80" y="671.40" font-size="6.90" text-anchor="middle" fill="#161616">0.2</text>
<path d="M515.5 570.5H513.3" stroke="#222" stroke-width="0.6"/>
<text x="510.50" y="573.00" font-size="6.90" text-anchor="end" fill="#161616">0.2</text>
<path d="M515.5 583.4H513.3" stroke="#222" stroke-width="0.6"/>
<text x="510.50" y="585.90" font-size="6.90" text-anchor="end" fill="#161616">0.1</text>
<path d="M515.5 596.3H513.3" stroke="#222" stroke-width="0.6"/>
<text x="510.50" y="598.80" font-size="6.90" text-anchor="end" fill="#161616">0.0</text>
<path d="M515.5 609.2H513.3" stroke="#222" stroke-width="0.6"/>
<text x="510.50" y="611.70" font-size="6.90" text-anchor="end" fill="#161616">−0.1</text>
<path d="M515.5 622.1H513.3" stroke="#222" stroke-width="0.6"/>
<text x="510.50" y="624.60" font-size="6.90" text-anchor="end" fill="#161616">−0.2</text>
<path d="M515.5 635.0H513.3" stroke="#222" stroke-width="0.6"/>
<text x="510.50" y="637.50" font-size="6.90" text-anchor="end" fill="#161616">−0.3</text>
<path d="M515.5 647.6H513.3" stroke="#222" stroke-width="0.6"/>
<text x="510.50" y="650.10" font-size="6.90" text-anchor="end" fill="#161616">−0.4</text>
<text x="489.15" y="611.50" font-size="7.65" text-anchor="middle" fill="#161616" transform="rotate(-90 489.15 611.50)">Δ 3′ processing</text>
<text x="563.80" y="682.60" font-size="7.65" text-anchor="middle" fill="#161616">Δ 5′ processing</text>
<text x="542.20" y="574.50" font-size="7.61" fill="#222">Adjusted <tspan font-style="italic">R</tspan><tspan dy="-2.74" font-size="4.72">2</tspan><tspan dy="2.74" font-size="7.61"> = −0.01</tspan></text>
</svg>
</body></html>
